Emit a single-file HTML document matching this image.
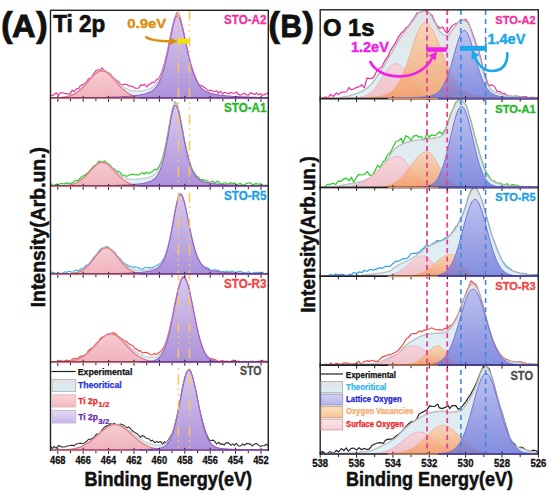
<!DOCTYPE html>
<html><head><meta charset="utf-8"><style>
html,body{margin:0;padding:0;background:#fff;}
svg{display:block;font-family:"Liberation Sans",sans-serif;font-weight:bold;}
</style></head><body>
<svg width="550" height="497" viewBox="0 0 550 497">
<defs><linearGradient id="gPur" x1="0" y1="0" x2="0" y2="1"><stop offset="0" stop-color="#d8c9ee"/><stop offset="1" stop-color="#ac92da"/></linearGradient>
<linearGradient id="gPink" x1="0" y1="0" x2="0" y2="1"><stop offset="0" stop-color="#f5cbd1"/><stop offset="1" stop-color="#f1b3bd"/></linearGradient>
<linearGradient id="gTh" x1="0" y1="0" x2="0" y2="1"><stop offset="0" stop-color="#dadcdd"/><stop offset="1" stop-color="#d4eef8"/></linearGradient>
<linearGradient id="gBlue" x1="0" y1="0" x2="0" y2="1"><stop offset="0" stop-color="#b4b8f0"/><stop offset="1" stop-color="#6e74d8"/></linearGradient>
<linearGradient id="gOr" x1="0" y1="0" x2="0" y2="1"><stop offset="0" stop-color="#fbd2ae"/><stop offset="1" stop-color="#f39c62"/></linearGradient>
<linearGradient id="gSurf" x1="0" y1="0" x2="0" y2="1"><stop offset="0" stop-color="#f6d3d8"/><stop offset="1" stop-color="#f3bcc5"/></linearGradient>
<linearGradient id="lgTh" x1="0" y1="0" x2="0" y2="1"><stop offset="0" stop-color="#e2e2e2"/><stop offset="1" stop-color="#d6f0f8"/></linearGradient>
<linearGradient id="lgBlue" x1="0" y1="0" x2="0" y2="1"><stop offset="0" stop-color="#d4d4f2"/><stop offset="1" stop-color="#b4b4ec"/></linearGradient>
<linearGradient id="lgOr" x1="0" y1="0" x2="0" y2="1"><stop offset="0" stop-color="#fde0c0"/><stop offset="1" stop-color="#f9c494"/></linearGradient>
<linearGradient id="lgSurf" x1="0" y1="0" x2="0" y2="1"><stop offset="0" stop-color="#fbe4e4"/><stop offset="1" stop-color="#f8d0d8"/></linearGradient>
<linearGradient id="lgPink" x1="0" y1="0" x2="0" y2="1"><stop offset="0" stop-color="#f9d4d8"/><stop offset="1" stop-color="#f4b8c0"/></linearGradient>
<linearGradient id="lgPur" x1="0" y1="0" x2="0" y2="1"><stop offset="0" stop-color="#e6dcf4"/><stop offset="1" stop-color="#c8b4e8"/></linearGradient>
<clipPath id="cL0"><rect x="50.5" y="10.3" width="217.8" height="88.0"/></clipPath>
<clipPath id="cL1"><rect x="50.5" y="98.3" width="217.8" height="88.0"/></clipPath>
<clipPath id="cL2"><rect x="50.5" y="186.3" width="217.8" height="88.0"/></clipPath>
<clipPath id="cL3"><rect x="50.5" y="274.3" width="217.8" height="88.0"/></clipPath>
<clipPath id="cL4"><rect x="50.5" y="362.3" width="217.8" height="88.0"/></clipPath>
<clipPath id="cR0"><rect x="320.2" y="9.8" width="218.1" height="88.8"/></clipPath>
<clipPath id="cR1"><rect x="320.2" y="98.6" width="218.1" height="88.9"/></clipPath>
<clipPath id="cR2"><rect x="320.2" y="187.5" width="218.1" height="88.8"/></clipPath>
<clipPath id="cR3"><rect x="320.2" y="276.3" width="218.1" height="88.9"/></clipPath>
<clipPath id="cR4"><rect x="320.2" y="365.2" width="218.1" height="88.9"/></clipPath></defs>
<rect width="550" height="497" fill="#fff"/>
<g clip-path="url(#cL0)">
<path d="M50.5 95.4L52.5 95.6L54.8 93.7L56.5 93.0L58.5 95.3L60.6 92.7L62.2 92.8L64.5 93.4L66.6 93.6L68.7 94.1L70.2 93.9L72.3 90.1L74.2 91.6L76.7 88.6L78.7 88.7L80.1 86.0L82.9 84.5L84.9 83.5L86.6 82.0L88.6 78.5L90.2 78.3L92.1 76.0L94.5 72.7L96.1 70.4L98.3 69.8L100.3 70.1L102.1 67.9L104.5 70.6L106.5 72.1L108.8 72.9L110.5 73.9L112.6 77.0L114.5 78.6L116.6 80.2L118.5 81.4L120.3 84.1L122.9 85.0L124.9 84.2L126.8 84.5L128.7 85.9L130.4 86.0L132.3 86.4L134.3 87.9L136.2 88.2L138.7 88.1L140.4 85.1L142.8 85.4L144.4 84.3L146.9 86.8L148.8 84.2L150.1 84.2L152.3 82.4L154.8 82.3L156.5 79.6L158.9 78.6L160.4 75.0L162.2 70.6L164.6 62.7L166.7 54.2L168.3 46.8L170.2 37.5L172.4 26.6L174.9 17.5L176.7 13.0L178.2 12.9L180.3 18.3L182.2 25.6L184.1 34.1L186.7 46.3L188.2 53.4L190.5 62.8L192.5 69.7L194.3 74.6L196.7 80.1L198.2 83.7L200.6 85.6L202.2 85.9L204.4 87.5L206.3 88.9L208.3 90.7L210.9 90.2L212.7 91.0L214.3 91.7L216.8 90.7L218.3 93.3L220.4 91.4L222.8 94.0L224.6 92.3L226.2 92.8L228.9 93.9L230.3 92.5L232.3 93.3L234.7 93.0L236.4 92.1L238.3 94.4L240.2 95.2L242.2 94.4L244.6 93.3L246.3 94.9L248.6 95.1L250.4 92.8L252.5 93.6L254.9 94.4L256.5 93.0L258.6 94.8L260.8 93.8L262.2 95.3L264.2 94.6L266.8 93.5L268.8 93.1" fill="none" stroke="#ee2fa0" stroke-width="1.15"/>
<path d="M50.5 97.7L51.5 97.7L52.5 97.7L53.5 97.6L54.5 97.6L55.5 97.6L56.5 97.5L57.5 97.5L58.5 97.4L59.5 97.3L60.5 97.3L61.5 97.2L62.5 97.1L63.5 96.9L64.5 96.8L65.5 96.6L66.5 96.4L67.5 96.2L68.5 95.9L69.5 95.6L70.5 95.3L71.5 94.9L72.5 94.5L73.5 94.0L74.5 93.5L75.5 92.9L76.5 92.3L77.5 91.6L78.5 90.8L79.5 90.0L80.5 89.2L81.5 88.2L82.5 87.2L83.5 86.2L84.5 85.1L85.5 84.0L86.5 82.9L87.5 81.7L88.5 80.5L89.5 79.3L90.5 78.2L91.5 77.0L92.5 76.0L93.5 74.9L94.5 73.9L95.5 73.0L96.5 72.2L97.5 71.5L98.5 71.0L99.5 70.5L100.5 70.2L101.5 70.0L102.5 70.0L103.5 70.1L104.5 70.4L105.5 70.7L106.5 71.3L107.5 71.9L108.5 72.6L109.5 73.4L110.5 74.3L111.5 75.3L112.5 76.3L113.5 77.4L114.5 78.4L115.5 79.5L116.5 80.6L117.5 81.6L118.5 82.6L119.5 83.6L120.5 84.5L121.5 85.4L122.5 86.2L123.5 86.9L124.5 87.6L125.5 88.2L126.5 88.7L127.5 89.2L128.5 89.6L129.5 89.9L130.5 90.2L131.5 90.5L132.5 90.7L133.5 90.8L134.5 90.9L135.5 91.0L136.5 91.0L137.5 91.0L138.5 91.0L139.5 90.9L140.5 90.9L141.5 90.8L142.5 90.6L143.5 90.5L144.5 90.3L145.5 90.1L146.5 89.8L147.5 89.5L148.5 89.2L149.5 88.8L150.5 88.4L151.5 87.8L152.5 87.2L153.5 86.5L154.5 85.6L155.5 84.6L156.5 83.4L157.5 82.0L158.5 80.3L159.5 78.4L160.5 76.2L161.5 73.7L162.5 70.8L163.5 67.6L164.5 64.0L165.5 60.1L166.5 55.8L167.5 51.2L168.5 46.4L169.5 41.4L170.5 36.3L171.5 31.3L172.5 26.5L173.5 22.3L174.5 18.7L175.5 16.0L176.5 14.5L177.5 14.2L178.5 15.0L179.5 16.8L180.5 19.6L181.5 23.0L182.5 27.1L183.5 31.5L184.5 36.2L185.5 40.9L186.5 45.7L187.5 50.3L188.5 54.8L189.5 59.0L190.5 62.9L191.5 66.6L192.5 69.9L193.5 73.0L194.5 75.7L195.5 78.1L196.5 80.3L197.5 82.3L198.5 83.9L199.5 85.4L200.5 86.7L201.5 87.8L202.5 88.8L203.5 89.6L204.5 90.3L205.5 91.0L206.5 91.5L207.5 92.0L208.5 92.4L209.5 92.8L210.5 93.1L211.5 93.4L212.5 93.7L213.5 93.9L214.5 94.2L215.5 94.4L216.5 94.6L217.5 94.7L218.5 94.9L219.5 95.0L220.5 95.2L221.5 95.3L222.5 95.4L223.5 95.6L224.5 95.7L225.5 95.8L226.5 95.9L227.5 96.0L228.5 96.0L229.5 96.1L230.5 96.2L231.5 96.3L232.5 96.3L233.5 96.4L234.5 96.5L235.5 96.5L236.5 96.6L237.5 96.6L238.5 96.7L239.5 96.7L240.5 96.8L241.5 96.8L242.5 96.9L243.5 96.9L244.5 97.0L245.5 97.0L246.5 97.0L247.5 97.1L248.5 97.1L249.5 97.1L250.5 97.2L251.5 97.2L252.5 97.2L253.5 97.2L254.5 97.3L255.5 97.3L256.5 97.3L257.5 97.3L258.5 97.4L259.5 97.4L260.5 97.4L261.5 97.4L262.5 97.5L263.5 97.5L264.5 97.5L265.5 97.5L266.5 97.5L267.5 97.5L268.5 97.6L268.5 98.3L50.5 98.3Z" fill="url(#gTh)" fill-opacity="0.8" stroke="#bcbcbc" stroke-opacity="0.85" stroke-width="1.1"/>
<path d="M50.5 98.0L51.5 98.0L52.5 98.0L53.5 98.0L54.5 97.9L55.5 97.9L56.5 97.9L57.5 97.8L58.5 97.8L59.5 97.7L60.5 97.6L61.5 97.5L62.5 97.4L63.5 97.3L64.5 97.2L65.5 97.0L66.5 96.8L67.5 96.6L68.5 96.3L69.5 96.1L70.5 95.7L71.5 95.4L72.5 95.0L73.5 94.5L74.5 94.0L75.5 93.4L76.5 92.8L77.5 92.1L78.5 91.4L79.5 90.5L80.5 89.7L81.5 88.8L82.5 87.8L83.5 86.8L84.5 85.7L85.5 84.6L86.5 83.5L87.5 82.3L88.5 81.2L89.5 80.0L90.5 78.8L91.5 77.7L92.5 76.6L93.5 75.6L94.5 74.7L95.5 73.8L96.5 73.0L97.5 72.3L98.5 71.8L99.5 71.4L100.5 71.1L101.5 70.9L102.5 70.9L103.5 71.1L104.5 71.4L105.5 71.8L106.5 72.3L107.5 73.0L108.5 73.8L109.5 74.7L110.5 75.6L111.5 76.6L112.5 77.7L113.5 78.8L114.5 80.0L115.5 81.2L116.5 82.3L117.5 83.5L118.5 84.6L119.5 85.7L120.5 86.8L121.5 87.8L122.5 88.8L123.5 89.7L124.5 90.5L125.5 91.4L126.5 92.1L127.5 92.8L128.5 93.4L129.5 94.0L130.5 94.5L131.5 95.0L132.5 95.4L133.5 95.7L134.5 96.1L135.5 96.3L136.5 96.6L137.5 96.8L138.5 97.0L139.5 97.2L140.5 97.3L141.5 97.4L142.5 97.5L143.5 97.6L144.5 97.7L145.5 97.8L146.5 97.8L147.5 97.9L148.5 97.9L149.5 97.9L150.5 98.0L151.5 98.0L152.5 98.0L153.5 98.0L154.5 98.0L155.5 98.0L156.5 98.1L157.5 98.1L158.5 98.1L159.5 98.1L160.5 98.1L161.5 98.1L162.5 98.1L163.5 98.1L164.5 98.1L165.5 98.1L166.5 98.1L167.5 98.1L168.5 98.1L169.5 98.1L170.5 98.1L171.5 98.2L172.5 98.2L173.5 98.2L174.5 98.2L175.5 98.2L176.5 98.2L177.5 98.2L178.5 98.2L179.5 98.2L180.5 98.2L181.5 98.2L182.5 98.2L183.5 98.2L184.5 98.2L185.5 98.2L186.5 98.2L187.5 98.2L188.5 98.2L189.5 98.2L190.5 98.2L191.5 98.2L192.5 98.2L193.5 98.2L194.5 98.2L195.5 98.2L196.5 98.2L197.5 98.2L198.5 98.2L199.5 98.2L200.5 98.2L201.5 98.2L202.5 98.2L203.5 98.2L204.5 98.2L205.5 98.2L206.5 98.2L207.5 98.2L208.5 98.2L209.5 98.2L210.5 98.2L211.5 98.2L212.5 98.2L213.5 98.2L214.5 98.2L215.5 98.2L216.5 98.2L217.5 98.2L218.5 98.2L219.5 98.2L220.5 98.2L221.5 98.2L222.5 98.2L223.5 98.3L224.5 98.3L225.5 98.3L226.5 98.3L227.5 98.3L228.5 98.3L229.5 98.3L230.5 98.3L231.5 98.3L232.5 98.3L233.5 98.3L234.5 98.3L235.5 98.3L236.5 98.3L237.5 98.3L238.5 98.3L239.5 98.3L240.5 98.3L241.5 98.3L242.5 98.3L243.5 98.3L244.5 98.3L245.5 98.3L246.5 98.3L247.5 98.3L248.5 98.3L249.5 98.3L250.5 98.3L251.5 98.3L252.5 98.3L253.5 98.3L254.5 98.3L255.5 98.3L256.5 98.3L257.5 98.3L258.5 98.3L259.5 98.3L260.5 98.3L261.5 98.3L262.5 98.3L263.5 98.3L264.5 98.3L265.5 98.3L266.5 98.3L267.5 98.3L268.5 98.3L268.5 98.3L50.5 98.3Z" fill="url(#gPink)" stroke="#e8707e" stroke-width="1.1"/>
<path d="M50.5 98.0L51.5 98.0L52.5 98.0L53.5 98.0L54.5 98.0L55.5 98.0L56.5 98.0L57.5 98.0L58.5 97.9L59.5 97.9L60.5 97.9L61.5 97.9L62.5 97.9L63.5 97.9L64.5 97.9L65.5 97.9L66.5 97.9L67.5 97.9L68.5 97.9L69.5 97.9L70.5 97.9L71.5 97.9L72.5 97.8L73.5 97.8L74.5 97.8L75.5 97.8L76.5 97.8L77.5 97.8L78.5 97.8L79.5 97.8L80.5 97.8L81.5 97.8L82.5 97.8L83.5 97.7L84.5 97.7L85.5 97.7L86.5 97.7L87.5 97.7L88.5 97.7L89.5 97.7L90.5 97.6L91.5 97.6L92.5 97.6L93.5 97.6L94.5 97.6L95.5 97.6L96.5 97.5L97.5 97.5L98.5 97.5L99.5 97.5L100.5 97.5L101.5 97.4L102.5 97.4L103.5 97.4L104.5 97.4L105.5 97.3L106.5 97.3L107.5 97.3L108.5 97.3L109.5 97.2L110.5 97.2L111.5 97.2L112.5 97.1L113.5 97.1L114.5 97.1L115.5 97.0L116.5 97.0L117.5 96.9L118.5 96.9L119.5 96.9L120.5 96.8L121.5 96.7L122.5 96.7L123.5 96.6L124.5 96.6L125.5 96.5L126.5 96.4L127.5 96.4L128.5 96.3L129.5 96.2L130.5 96.1L131.5 96.0L132.5 95.9L133.5 95.8L134.5 95.7L135.5 95.6L136.5 95.5L137.5 95.3L138.5 95.2L139.5 95.0L140.5 94.9L141.5 94.7L142.5 94.5L143.5 94.3L144.5 94.0L145.5 93.8L146.5 93.5L147.5 93.1L148.5 92.8L149.5 92.3L150.5 91.9L151.5 91.3L152.5 90.6L153.5 89.9L154.5 88.9L155.5 87.9L156.5 86.6L157.5 85.2L158.5 83.5L159.5 81.5L160.5 79.3L161.5 76.7L162.5 73.7L163.5 70.5L164.5 66.8L165.5 62.8L166.5 58.4L167.5 53.8L168.5 48.8L169.5 43.7L170.5 38.6L171.5 33.5L172.5 28.6L173.5 24.3L174.5 20.6L175.5 17.8L176.5 16.2L177.5 15.8L178.5 16.6L179.5 18.3L180.5 21.0L181.5 24.4L182.5 28.3L183.5 32.7L184.5 37.3L185.5 42.0L186.5 46.6L187.5 51.2L188.5 55.6L189.5 59.7L190.5 63.6L191.5 67.2L192.5 70.5L193.5 73.5L194.5 76.2L195.5 78.6L196.5 80.8L197.5 82.7L198.5 84.3L199.5 85.8L200.5 87.0L201.5 88.1L202.5 89.1L203.5 89.9L204.5 90.6L205.5 91.2L206.5 91.7L207.5 92.2L208.5 92.6L209.5 93.0L210.5 93.3L211.5 93.6L212.5 93.8L213.5 94.1L214.5 94.3L215.5 94.5L216.5 94.7L217.5 94.8L218.5 95.0L219.5 95.1L220.5 95.3L221.5 95.4L222.5 95.5L223.5 95.6L224.5 95.7L225.5 95.8L226.5 95.9L227.5 96.0L228.5 96.1L229.5 96.2L230.5 96.3L231.5 96.3L232.5 96.4L233.5 96.5L234.5 96.5L235.5 96.6L236.5 96.6L237.5 96.7L238.5 96.7L239.5 96.8L240.5 96.8L241.5 96.9L242.5 96.9L243.5 97.0L244.5 97.0L245.5 97.0L246.5 97.1L247.5 97.1L248.5 97.1L249.5 97.2L250.5 97.2L251.5 97.2L252.5 97.3L253.5 97.3L254.5 97.3L255.5 97.3L256.5 97.4L257.5 97.4L258.5 97.4L259.5 97.4L260.5 97.4L261.5 97.5L262.5 97.5L263.5 97.5L264.5 97.5L265.5 97.5L266.5 97.6L267.5 97.6L268.5 97.6L268.5 98.3L50.5 98.3Z" fill="url(#gPur)" stroke="#a058c8" stroke-width="1.05"/>
</g>
<g clip-path="url(#cL1)">
<path d="M50.8 183.3L52.4 185.4L54.6 185.0L56.4 184.2L58.2 184.7L60.5 183.6L62.8 183.7L64.8 183.8L66.7 182.9L68.9 183.2L70.3 183.5L72.2 182.9L74.5 181.0L76.3 180.1L78.3 180.8L80.4 177.8L82.6 176.0L84.5 175.5L86.4 173.6L88.8 171.9L90.9 169.0L92.5 167.4L94.2 165.5L96.1 165.1L98.8 161.1L100.1 161.6L102.7 161.5L104.6 160.8L106.3 162.2L108.7 163.9L110.1 164.6L112.2 167.8L114.5 169.0L116.1 170.8L118.8 171.6L120.3 172.6L122.2 175.1L124.1 175.2L126.6 176.4L128.5 175.6L130.6 174.5L132.6 174.1L134.7 174.8L136.9 174.9L138.6 175.0L140.3 173.7L142.5 172.6L144.2 174.2L146.1 172.3L148.5 173.6L150.7 172.5L152.2 171.8L154.3 169.6L156.4 169.6L158.7 167.2L160.5 163.4L162.6 158.0L164.7 149.3L166.4 141.4L168.7 128.3L170.8 116.6L172.2 110.1L174.8 102.1L176.7 103.9L178.2 108.3L180.5 118.5L182.6 130.0L184.8 142.1L186.4 149.7L188.6 158.3L190.8 165.5L192.7 170.3L194.9 173.5L196.5 175.9L198.6 177.1L200.3 179.7L202.7 179.6L204.8 180.1L206.6 180.3L208.7 182.1L210.3 182.3L212.8 181.2L214.9 183.1L216.9 181.4L218.5 181.8L220.7 183.8L222.4 183.7L224.8 182.6L226.8 183.9L228.4 184.3L230.2 182.7L232.5 183.8L234.5 182.9L236.7 184.6L238.5 184.0L240.1 183.4L242.7 185.1L244.2 184.7L246.7 183.6L248.2 183.0L250.4 182.9L252.7 185.0L254.2 184.1L256.2 183.6L258.5 184.2L260.7 183.8L262.8 185.0L264.7 185.3L266.9 185.3L268.5 185.4" fill="none" stroke="#22cc22" stroke-width="1.15"/>
<path d="M50.5 185.9L51.5 185.9L52.5 185.9L53.5 185.8L54.5 185.8L55.5 185.8L56.5 185.8L57.5 185.8L58.5 185.7L59.5 185.7L60.5 185.7L61.5 185.6L62.5 185.5L63.5 185.5L64.5 185.4L65.5 185.3L66.5 185.2L67.5 185.1L68.5 184.9L69.5 184.7L70.5 184.5L71.5 184.3L72.5 184.0L73.5 183.7L74.5 183.3L75.5 182.9L76.5 182.4L77.5 181.9L78.5 181.3L79.5 180.7L80.5 180.0L81.5 179.2L82.5 178.4L83.5 177.5L84.5 176.6L85.5 175.6L86.5 174.6L87.5 173.5L88.5 172.4L89.5 171.3L90.5 170.2L91.5 169.1L92.5 168.0L93.5 167.0L94.5 166.0L95.5 165.1L96.5 164.3L97.5 163.6L98.5 163.0L99.5 162.5L100.5 162.1L101.5 161.9L102.5 161.8L103.5 161.9L104.5 162.1L105.5 162.5L106.5 162.9L107.5 163.5L108.5 164.2L109.5 165.0L110.5 165.9L111.5 166.8L112.5 167.8L113.5 168.8L114.5 169.8L115.5 170.7L116.5 171.7L117.5 172.6L118.5 173.5L119.5 174.4L120.5 175.2L121.5 175.9L122.5 176.5L123.5 177.1L124.5 177.6L125.5 178.0L126.5 178.4L127.5 178.7L128.5 178.9L129.5 179.1L130.5 179.2L131.5 179.3L132.5 179.3L133.5 179.3L134.5 179.3L135.5 179.3L136.5 179.2L137.5 179.1L138.5 179.1L139.5 178.9L140.5 178.8L141.5 178.7L142.5 178.5L143.5 178.4L144.5 178.2L145.5 178.0L146.5 177.8L147.5 177.6L148.5 177.3L149.5 177.0L150.5 176.6L151.5 176.2L152.5 175.7L153.5 175.0L154.5 174.3L155.5 173.4L156.5 172.2L157.5 170.9L158.5 169.2L159.5 167.2L160.5 164.9L161.5 162.1L162.5 158.8L163.5 155.1L164.5 150.9L165.5 146.2L166.5 141.1L167.5 135.6L168.5 129.9L169.5 124.1L170.5 118.5L171.5 113.2L172.5 108.7L173.5 105.3L174.5 103.2L175.5 102.8L176.5 103.8L177.5 106.1L178.5 109.5L179.5 113.9L180.5 118.8L181.5 124.1L182.5 129.6L183.5 135.0L184.5 140.3L185.5 145.4L186.5 150.1L187.5 154.4L188.5 158.4L189.5 161.9L190.5 165.0L191.5 167.7L192.5 170.1L193.5 172.1L194.5 173.9L195.5 175.4L196.5 176.6L197.5 177.6L198.5 178.5L199.5 179.3L200.5 179.9L201.5 180.4L202.5 180.9L203.5 181.3L204.5 181.7L205.5 182.0L206.5 182.2L207.5 182.5L208.5 182.7L209.5 182.9L210.5 183.1L211.5 183.3L212.5 183.4L213.5 183.6L214.5 183.7L215.5 183.8L216.5 183.9L217.5 184.0L218.5 184.1L219.5 184.2L220.5 184.3L221.5 184.4L222.5 184.5L223.5 184.6L224.5 184.6L225.5 184.7L226.5 184.8L227.5 184.8L228.5 184.9L229.5 184.9L230.5 185.0L231.5 185.0L232.5 185.1L233.5 185.1L234.5 185.1L235.5 185.2L236.5 185.2L237.5 185.2L238.5 185.3L239.5 185.3L240.5 185.3L241.5 185.4L242.5 185.4L243.5 185.4L244.5 185.4L245.5 185.5L246.5 185.5L247.5 185.5L248.5 185.5L249.5 185.6L250.5 185.6L251.5 185.6L252.5 185.6L253.5 185.6L254.5 185.6L255.5 185.7L256.5 185.7L257.5 185.7L258.5 185.7L259.5 185.7L260.5 185.7L261.5 185.7L262.5 185.8L263.5 185.8L264.5 185.8L265.5 185.8L266.5 185.8L267.5 185.8L268.5 185.8L268.5 186.3L50.5 186.3Z" fill="url(#gTh)" fill-opacity="0.8" stroke="#bcbcbc" stroke-opacity="0.85" stroke-width="1.1"/>
<path d="M50.5 186.1L51.5 186.1L52.5 186.1L53.5 186.1L54.5 186.1L55.5 186.0L56.5 186.0L57.5 186.0L58.5 186.0L59.5 185.9L60.5 185.9L61.5 185.9L62.5 185.8L63.5 185.7L64.5 185.7L65.5 185.6L66.5 185.5L67.5 185.3L68.5 185.2L69.5 185.0L70.5 184.8L71.5 184.6L72.5 184.3L73.5 184.0L74.5 183.6L75.5 183.2L76.5 182.7L77.5 182.2L78.5 181.6L79.5 181.0L80.5 180.3L81.5 179.6L82.5 178.8L83.5 177.9L84.5 177.0L85.5 176.0L86.5 175.0L87.5 173.9L88.5 172.8L89.5 171.8L90.5 170.7L91.5 169.6L92.5 168.5L93.5 167.5L94.5 166.5L95.5 165.7L96.5 164.8L97.5 164.1L98.5 163.5L99.5 163.1L100.5 162.7L101.5 162.5L102.5 162.5L103.5 162.6L104.5 162.9L105.5 163.2L106.5 163.8L107.5 164.4L108.5 165.2L109.5 166.0L110.5 166.9L111.5 167.9L112.5 168.9L113.5 170.0L114.5 171.1L115.5 172.2L116.5 173.3L117.5 174.3L118.5 175.4L119.5 176.4L120.5 177.3L121.5 178.2L122.5 179.1L123.5 179.9L124.5 180.6L125.5 181.3L126.5 181.9L127.5 182.4L128.5 182.9L129.5 183.4L130.5 183.8L131.5 184.1L132.5 184.4L133.5 184.7L134.5 184.9L135.5 185.1L136.5 185.2L137.5 185.4L138.5 185.5L139.5 185.6L140.5 185.7L141.5 185.8L142.5 185.8L143.5 185.9L144.5 185.9L145.5 186.0L146.5 186.0L147.5 186.0L148.5 186.0L149.5 186.0L150.5 186.1L151.5 186.1L152.5 186.1L153.5 186.1L154.5 186.1L155.5 186.1L156.5 186.1L157.5 186.1L158.5 186.1L159.5 186.1L160.5 186.1L161.5 186.2L162.5 186.2L163.5 186.2L164.5 186.2L165.5 186.2L166.5 186.2L167.5 186.2L168.5 186.2L169.5 186.2L170.5 186.2L171.5 186.2L172.5 186.2L173.5 186.2L174.5 186.2L175.5 186.2L176.5 186.2L177.5 186.2L178.5 186.2L179.5 186.2L180.5 186.2L181.5 186.2L182.5 186.2L183.5 186.2L184.5 186.2L185.5 186.2L186.5 186.2L187.5 186.2L188.5 186.2L189.5 186.2L190.5 186.2L191.5 186.2L192.5 186.2L193.5 186.2L194.5 186.2L195.5 186.2L196.5 186.2L197.5 186.2L198.5 186.2L199.5 186.2L200.5 186.2L201.5 186.2L202.5 186.2L203.5 186.2L204.5 186.2L205.5 186.2L206.5 186.3L207.5 186.3L208.5 186.3L209.5 186.3L210.5 186.3L211.5 186.3L212.5 186.3L213.5 186.3L214.5 186.3L215.5 186.3L216.5 186.3L217.5 186.3L218.5 186.3L219.5 186.3L220.5 186.3L221.5 186.3L222.5 186.3L223.5 186.3L224.5 186.3L225.5 186.3L226.5 186.3L227.5 186.3L228.5 186.3L229.5 186.3L230.5 186.3L231.5 186.3L232.5 186.3L233.5 186.3L234.5 186.3L235.5 186.3L236.5 186.3L237.5 186.3L238.5 186.3L239.5 186.3L240.5 186.3L241.5 186.3L242.5 186.3L243.5 186.3L244.5 186.3L245.5 186.3L246.5 186.3L247.5 186.3L248.5 186.3L249.5 186.3L250.5 186.3L251.5 186.3L252.5 186.3L253.5 186.3L254.5 186.3L255.5 186.3L256.5 186.3L257.5 186.3L258.5 186.3L259.5 186.3L260.5 186.3L261.5 186.3L262.5 186.3L263.5 186.3L264.5 186.3L265.5 186.3L266.5 186.3L267.5 186.3L268.5 186.3L268.5 186.3L50.5 186.3Z" fill="url(#gPink)" stroke="#e8707e" stroke-width="1.1"/>
<path d="M50.5 186.1L51.5 186.1L52.5 186.1L53.5 186.1L54.5 186.1L55.5 186.1L56.5 186.1L57.5 186.1L58.5 186.1L59.5 186.1L60.5 186.1L61.5 186.0L62.5 186.0L63.5 186.0L64.5 186.0L65.5 186.0L66.5 186.0L67.5 186.0L68.5 186.0L69.5 186.0L70.5 186.0L71.5 186.0L72.5 186.0L73.5 186.0L74.5 186.0L75.5 186.0L76.5 186.0L77.5 186.0L78.5 185.9L79.5 185.9L80.5 185.9L81.5 185.9L82.5 185.9L83.5 185.9L84.5 185.9L85.5 185.9L86.5 185.9L87.5 185.9L88.5 185.9L89.5 185.9L90.5 185.8L91.5 185.8L92.5 185.8L93.5 185.8L94.5 185.8L95.5 185.8L96.5 185.8L97.5 185.8L98.5 185.7L99.5 185.7L100.5 185.7L101.5 185.7L102.5 185.7L103.5 185.7L104.5 185.6L105.5 185.6L106.5 185.6L107.5 185.6L108.5 185.6L109.5 185.5L110.5 185.5L111.5 185.5L112.5 185.5L113.5 185.5L114.5 185.4L115.5 185.4L116.5 185.4L117.5 185.3L118.5 185.3L119.5 185.3L120.5 185.2L121.5 185.2L122.5 185.1L123.5 185.1L124.5 185.1L125.5 185.0L126.5 185.0L127.5 184.9L128.5 184.8L129.5 184.8L130.5 184.7L131.5 184.6L132.5 184.6L133.5 184.5L134.5 184.4L135.5 184.3L136.5 184.2L137.5 184.1L138.5 184.0L139.5 183.9L140.5 183.7L141.5 183.6L142.5 183.4L143.5 183.3L144.5 183.1L145.5 182.9L146.5 182.6L147.5 182.4L148.5 182.1L149.5 181.7L150.5 181.3L151.5 180.9L152.5 180.3L153.5 179.7L154.5 178.9L155.5 177.9L156.5 176.7L157.5 175.3L158.5 173.6L159.5 171.5L160.5 169.1L161.5 166.2L162.5 162.9L163.5 159.0L164.5 154.7L165.5 149.9L166.5 144.7L167.5 139.1L168.5 133.3L169.5 127.4L170.5 121.6L171.5 116.3L172.5 111.6L173.5 108.1L174.5 105.9L175.5 105.3L176.5 106.2L177.5 108.4L178.5 111.7L179.5 115.9L180.5 120.7L181.5 125.9L182.5 131.3L183.5 136.6L184.5 141.8L185.5 146.7L186.5 151.4L187.5 155.6L188.5 159.5L189.5 162.9L190.5 166.0L191.5 168.6L192.5 170.9L193.5 172.9L194.5 174.6L195.5 176.0L196.5 177.2L197.5 178.2L198.5 179.0L199.5 179.7L200.5 180.3L201.5 180.8L202.5 181.3L203.5 181.6L204.5 182.0L205.5 182.2L206.5 182.5L207.5 182.7L208.5 182.9L209.5 183.1L210.5 183.3L211.5 183.4L212.5 183.6L213.5 183.7L214.5 183.8L215.5 184.0L216.5 184.1L217.5 184.2L218.5 184.3L219.5 184.3L220.5 184.4L221.5 184.5L222.5 184.6L223.5 184.6L224.5 184.7L225.5 184.8L226.5 184.8L227.5 184.9L228.5 184.9L229.5 185.0L230.5 185.0L231.5 185.1L232.5 185.1L233.5 185.1L234.5 185.2L235.5 185.2L236.5 185.3L237.5 185.3L238.5 185.3L239.5 185.3L240.5 185.4L241.5 185.4L242.5 185.4L243.5 185.5L244.5 185.5L245.5 185.5L246.5 185.5L247.5 185.5L248.5 185.6L249.5 185.6L250.5 185.6L251.5 185.6L252.5 185.6L253.5 185.7L254.5 185.7L255.5 185.7L256.5 185.7L257.5 185.7L258.5 185.7L259.5 185.7L260.5 185.8L261.5 185.8L262.5 185.8L263.5 185.8L264.5 185.8L265.5 185.8L266.5 185.8L267.5 185.8L268.5 185.8L268.5 186.3L50.5 186.3Z" fill="url(#gPur)" stroke="#a058c8" stroke-width="1.05"/>
</g>
<g clip-path="url(#cL2)">
<path d="M50.5 273.0L52.5 272.1L54.6 272.9L56.2 273.5L58.2 273.0L60.3 273.3L62.8 273.1L64.9 271.8L66.8 272.5L68.2 271.4L70.1 271.5L72.9 272.6L74.5 270.5L76.7 270.1L78.4 271.4L80.5 268.9L82.5 268.8L84.4 267.5L86.6 265.0L88.1 264.9L90.7 261.7L92.8 258.6L94.2 257.0L96.5 254.5L98.7 251.0L100.4 249.3L102.3 248.1L104.2 247.9L106.5 246.5L108.1 247.1L110.8 249.1L112.7 251.0L114.7 252.2L116.8 255.4L118.6 257.1L120.4 258.9L122.6 261.5L124.5 263.6L126.9 264.7L128.7 266.1L130.3 266.1L132.8 267.4L134.7 266.9L136.7 267.3L138.8 267.9L140.4 268.9L142.8 269.1L144.8 267.4L146.7 267.5L148.7 267.6L150.7 267.8L152.4 267.6L154.7 266.2L156.2 265.8L158.4 264.6L160.5 263.1L162.1 261.1L164.4 257.6L166.6 251.6L168.6 243.9L170.3 236.5L172.9 223.1L174.6 213.7L176.4 204.7L178.6 196.1L180.6 193.4L182.5 195.9L184.4 202.4L186.9 213.6L188.6 222.6L190.7 232.7L192.7 241.5L194.9 249.6L196.1 253.3L198.6 259.5L200.7 262.9L202.3 265.3L204.4 266.9L206.1 267.2L208.3 268.0L210.4 270.2L212.2 270.5L214.3 269.5L216.8 270.3L218.5 270.2L220.5 271.6L222.9 271.4L224.6 271.8L226.9 270.9L228.6 271.9L230.7 271.5L232.2 270.9L234.6 272.3L236.7 272.0L238.1 271.6L240.8 271.4L242.2 272.4L244.5 272.6L246.2 273.2L248.5 271.7L250.6 273.3L252.1 273.4L254.9 272.4L256.4 272.6L258.5 272.3L260.6 273.1L262.4 272.2L264.3 273.6L266.6 273.3L268.5 272.5" fill="none" stroke="#48b0ee" stroke-width="1.15"/>
<path d="M50.5 273.9L51.5 273.9L52.5 273.9L53.5 273.9L54.5 273.9L55.5 273.9L56.5 273.9L57.5 273.9L58.5 273.9L59.5 273.8L60.5 273.8L61.5 273.8L62.5 273.8L63.5 273.8L64.5 273.7L65.5 273.7L66.5 273.6L67.5 273.6L68.5 273.5L69.5 273.5L70.5 273.4L71.5 273.3L72.5 273.1L73.5 273.0L74.5 272.8L75.5 272.6L76.5 272.4L77.5 272.1L78.5 271.7L79.5 271.3L80.5 270.9L81.5 270.4L82.5 269.8L83.5 269.2L84.5 268.4L85.5 267.6L86.5 266.8L87.5 265.8L88.5 264.8L89.5 263.7L90.5 262.5L91.5 261.3L92.5 260.1L93.5 258.8L94.5 257.5L95.5 256.1L96.5 254.9L97.5 253.6L98.5 252.4L99.5 251.3L100.5 250.2L101.5 249.3L102.5 248.6L103.5 248.0L104.5 247.5L105.5 247.3L106.5 247.2L107.5 247.3L108.5 247.6L109.5 248.0L110.5 248.7L111.5 249.5L112.5 250.4L113.5 251.4L114.5 252.5L115.5 253.6L116.5 254.9L117.5 256.1L118.5 257.3L119.5 258.6L120.5 259.8L121.5 260.9L122.5 262.0L123.5 263.1L124.5 264.1L125.5 264.9L126.5 265.8L127.5 266.5L128.5 267.2L129.5 267.7L130.5 268.2L131.5 268.7L132.5 269.0L133.5 269.4L134.5 269.6L135.5 269.8L136.5 270.0L137.5 270.1L138.5 270.2L139.5 270.2L140.5 270.3L141.5 270.3L142.5 270.2L143.5 270.2L144.5 270.1L145.5 270.0L146.5 269.9L147.5 269.8L148.5 269.7L149.5 269.5L150.5 269.3L151.5 269.1L152.5 268.9L153.5 268.6L154.5 268.3L155.5 267.9L156.5 267.4L157.5 266.8L158.5 266.1L159.5 265.3L160.5 264.3L161.5 263.0L162.5 261.5L163.5 259.7L164.5 257.5L165.5 255.0L166.5 252.0L167.5 248.6L168.5 244.8L169.5 240.5L170.5 235.8L171.5 230.7L172.5 225.4L173.5 219.8L174.5 214.3L175.5 209.0L176.5 204.0L177.5 199.7L178.5 196.4L179.5 194.4L180.5 193.7L181.5 194.3L182.5 196.1L183.5 198.9L184.5 202.6L185.5 207.0L186.5 211.8L187.5 216.8L188.5 221.9L189.5 227.0L190.5 231.8L191.5 236.5L192.5 240.8L193.5 244.8L194.5 248.5L195.5 251.8L196.5 254.6L197.5 257.2L198.5 259.4L199.5 261.3L200.5 262.9L201.5 264.3L202.5 265.5L203.5 266.5L204.5 267.3L205.5 268.0L206.5 268.6L207.5 269.1L208.5 269.5L209.5 269.9L210.5 270.2L211.5 270.4L212.5 270.7L213.5 270.9L214.5 271.1L215.5 271.3L216.5 271.4L217.5 271.6L218.5 271.7L219.5 271.8L220.5 271.9L221.5 272.0L222.5 272.1L223.5 272.2L224.5 272.3L225.5 272.4L226.5 272.5L227.5 272.6L228.5 272.6L229.5 272.7L230.5 272.8L231.5 272.8L232.5 272.9L233.5 272.9L234.5 273.0L235.5 273.0L236.5 273.1L237.5 273.1L238.5 273.1L239.5 273.2L240.5 273.2L241.5 273.2L242.5 273.3L243.5 273.3L244.5 273.3L245.5 273.4L246.5 273.4L247.5 273.4L248.5 273.4L249.5 273.5L250.5 273.5L251.5 273.5L252.5 273.5L253.5 273.6L254.5 273.6L255.5 273.6L256.5 273.6L257.5 273.6L258.5 273.6L259.5 273.7L260.5 273.7L261.5 273.7L262.5 273.7L263.5 273.7L264.5 273.7L265.5 273.7L266.5 273.8L267.5 273.8L268.5 273.8L268.5 274.3L50.5 274.3Z" fill="url(#gTh)" fill-opacity="0.8" stroke="#bcbcbc" stroke-opacity="0.85" stroke-width="1.1"/>
<path d="M50.5 274.1L51.5 274.1L52.5 274.1L53.5 274.1L54.5 274.1L55.5 274.1L56.5 274.1L57.5 274.1L58.5 274.1L59.5 274.1L60.5 274.0L61.5 274.0L62.5 274.0L63.5 274.0L64.5 274.0L65.5 273.9L66.5 273.9L67.5 273.8L68.5 273.8L69.5 273.7L70.5 273.6L71.5 273.5L72.5 273.4L73.5 273.3L74.5 273.1L75.5 272.9L76.5 272.7L77.5 272.4L78.5 272.0L79.5 271.7L80.5 271.2L81.5 270.7L82.5 270.2L83.5 269.5L84.5 268.8L85.5 268.0L86.5 267.1L87.5 266.2L88.5 265.2L89.5 264.1L90.5 262.9L91.5 261.7L92.5 260.5L93.5 259.2L94.5 257.9L95.5 256.6L96.5 255.3L97.5 254.1L98.5 252.9L99.5 251.8L100.5 250.8L101.5 249.9L102.5 249.1L103.5 248.5L104.5 248.1L105.5 247.9L106.5 247.8L107.5 247.9L108.5 248.3L109.5 248.7L110.5 249.4L111.5 250.2L112.5 251.2L113.5 252.2L114.5 253.4L115.5 254.6L116.5 255.8L117.5 257.1L118.5 258.4L119.5 259.7L120.5 261.0L121.5 262.2L122.5 263.4L123.5 264.5L124.5 265.6L125.5 266.6L126.5 267.5L127.5 268.3L128.5 269.1L129.5 269.8L130.5 270.4L131.5 270.9L132.5 271.4L133.5 271.8L134.5 272.2L135.5 272.5L136.5 272.8L137.5 273.0L138.5 273.2L139.5 273.3L140.5 273.5L141.5 273.6L142.5 273.7L143.5 273.7L144.5 273.8L145.5 273.9L146.5 273.9L147.5 273.9L148.5 274.0L149.5 274.0L150.5 274.0L151.5 274.0L152.5 274.1L153.5 274.1L154.5 274.1L155.5 274.1L156.5 274.1L157.5 274.1L158.5 274.1L159.5 274.1L160.5 274.1L161.5 274.1L162.5 274.1L163.5 274.1L164.5 274.1L165.5 274.2L166.5 274.2L167.5 274.2L168.5 274.2L169.5 274.2L170.5 274.2L171.5 274.2L172.5 274.2L173.5 274.2L174.5 274.2L175.5 274.2L176.5 274.2L177.5 274.2L178.5 274.2L179.5 274.2L180.5 274.2L181.5 274.2L182.5 274.2L183.5 274.2L184.5 274.2L185.5 274.2L186.5 274.2L187.5 274.2L188.5 274.2L189.5 274.2L190.5 274.2L191.5 274.2L192.5 274.2L193.5 274.2L194.5 274.2L195.5 274.2L196.5 274.2L197.5 274.2L198.5 274.2L199.5 274.2L200.5 274.2L201.5 274.2L202.5 274.2L203.5 274.2L204.5 274.2L205.5 274.2L206.5 274.2L207.5 274.2L208.5 274.2L209.5 274.3L210.5 274.3L211.5 274.3L212.5 274.3L213.5 274.3L214.5 274.3L215.5 274.3L216.5 274.3L217.5 274.3L218.5 274.3L219.5 274.3L220.5 274.3L221.5 274.3L222.5 274.3L223.5 274.3L224.5 274.3L225.5 274.3L226.5 274.3L227.5 274.3L228.5 274.3L229.5 274.3L230.5 274.3L231.5 274.3L232.5 274.3L233.5 274.3L234.5 274.3L235.5 274.3L236.5 274.3L237.5 274.3L238.5 274.3L239.5 274.3L240.5 274.3L241.5 274.3L242.5 274.3L243.5 274.3L244.5 274.3L245.5 274.3L246.5 274.3L247.5 274.3L248.5 274.3L249.5 274.3L250.5 274.3L251.5 274.3L252.5 274.3L253.5 274.3L254.5 274.3L255.5 274.3L256.5 274.3L257.5 274.3L258.5 274.3L259.5 274.3L260.5 274.3L261.5 274.3L262.5 274.3L263.5 274.3L264.5 274.3L265.5 274.3L266.5 274.3L267.5 274.3L268.5 274.3L268.5 274.3L50.5 274.3Z" fill="url(#gPink)" stroke="#e8707e" stroke-width="1.1"/>
<path d="M50.5 274.1L51.5 274.1L52.5 274.1L53.5 274.1L54.5 274.1L55.5 274.1L56.5 274.1L57.5 274.1L58.5 274.1L59.5 274.1L60.5 274.1L61.5 274.1L62.5 274.1L63.5 274.1L64.5 274.1L65.5 274.1L66.5 274.1L67.5 274.0L68.5 274.0L69.5 274.0L70.5 274.0L71.5 274.0L72.5 274.0L73.5 274.0L74.5 274.0L75.5 274.0L76.5 274.0L77.5 274.0L78.5 274.0L79.5 274.0L80.5 274.0L81.5 274.0L82.5 274.0L83.5 274.0L84.5 274.0L85.5 273.9L86.5 273.9L87.5 273.9L88.5 273.9L89.5 273.9L90.5 273.9L91.5 273.9L92.5 273.9L93.5 273.9L94.5 273.9L95.5 273.9L96.5 273.8L97.5 273.8L98.5 273.8L99.5 273.8L100.5 273.8L101.5 273.8L102.5 273.8L103.5 273.8L104.5 273.7L105.5 273.7L106.5 273.7L107.5 273.7L108.5 273.7L109.5 273.7L110.5 273.6L111.5 273.6L112.5 273.6L113.5 273.6L114.5 273.6L115.5 273.5L116.5 273.5L117.5 273.5L118.5 273.5L119.5 273.4L120.5 273.4L121.5 273.4L122.5 273.4L123.5 273.3L124.5 273.3L125.5 273.3L126.5 273.2L127.5 273.2L128.5 273.1L129.5 273.1L130.5 273.0L131.5 273.0L132.5 272.9L133.5 272.9L134.5 272.8L135.5 272.8L136.5 272.7L137.5 272.6L138.5 272.5L139.5 272.5L140.5 272.4L141.5 272.3L142.5 272.2L143.5 272.1L144.5 272.0L145.5 271.8L146.5 271.7L147.5 271.5L148.5 271.4L149.5 271.2L150.5 271.0L151.5 270.7L152.5 270.5L153.5 270.2L154.5 269.8L155.5 269.4L156.5 268.9L157.5 268.3L158.5 267.6L159.5 266.7L160.5 265.6L161.5 264.4L162.5 262.8L163.5 261.0L164.5 258.8L165.5 256.2L166.5 253.2L167.5 249.8L168.5 245.9L169.5 241.5L170.5 236.8L171.5 231.7L172.5 226.3L173.5 220.8L174.5 215.2L175.5 209.8L176.5 204.8L177.5 200.5L178.5 197.2L179.5 195.0L180.5 194.3L181.5 194.9L182.5 196.7L183.5 199.5L184.5 203.1L185.5 207.5L186.5 212.2L187.5 217.2L188.5 222.3L189.5 227.3L190.5 232.2L191.5 236.8L192.5 241.1L193.5 245.1L194.5 248.7L195.5 252.0L196.5 254.9L197.5 257.4L198.5 259.6L199.5 261.5L200.5 263.1L201.5 264.5L202.5 265.6L203.5 266.6L204.5 267.4L205.5 268.1L206.5 268.7L207.5 269.2L208.5 269.6L209.5 270.0L210.5 270.3L211.5 270.5L212.5 270.8L213.5 271.0L214.5 271.2L215.5 271.3L216.5 271.5L217.5 271.6L218.5 271.8L219.5 271.9L220.5 272.0L221.5 272.1L222.5 272.2L223.5 272.3L224.5 272.4L225.5 272.5L226.5 272.5L227.5 272.6L228.5 272.7L229.5 272.7L230.5 272.8L231.5 272.8L232.5 272.9L233.5 273.0L234.5 273.0L235.5 273.0L236.5 273.1L237.5 273.1L238.5 273.2L239.5 273.2L240.5 273.2L241.5 273.3L242.5 273.3L243.5 273.3L244.5 273.4L245.5 273.4L246.5 273.4L247.5 273.4L248.5 273.5L249.5 273.5L250.5 273.5L251.5 273.5L252.5 273.6L253.5 273.6L254.5 273.6L255.5 273.6L256.5 273.6L257.5 273.6L258.5 273.7L259.5 273.7L260.5 273.7L261.5 273.7L262.5 273.7L263.5 273.7L264.5 273.8L265.5 273.8L266.5 273.8L267.5 273.8L268.5 273.8L268.5 274.3L50.5 274.3Z" fill="url(#gPur)" stroke="#a058c8" stroke-width="1.05"/>
</g>
<g clip-path="url(#cL3)">
<path d="M50.2 361.0L52.3 361.8L54.7 361.8L56.7 361.6L58.3 361.8L60.2 360.5L62.4 361.3L64.7 360.7L66.4 360.1L68.2 360.5L70.7 360.6L72.6 359.0L74.8 358.4L76.9 358.9L78.8 357.7L80.5 356.2L82.7 355.8L84.3 355.3L86.4 354.2L88.4 350.7L90.8 348.8L92.8 347.5L94.3 345.7L96.4 343.4L98.4 341.7L100.4 338.4L102.4 337.0L104.4 336.2L106.3 335.5L108.6 333.6L110.7 333.5L112.5 332.7L114.8 333.4L116.6 334.5L118.2 336.3L120.7 338.1L122.8 339.4L124.3 340.7L126.1 341.1L128.5 343.6L130.5 344.8L132.6 345.5L134.9 348.5L136.6 349.1L138.7 351.1L140.2 350.6L142.5 353.1L144.7 352.3L146.2 352.6L148.2 353.1L150.7 355.0L152.8 354.7L154.2 353.7L156.6 354.4L158.2 352.9L160.7 351.6L162.6 348.7L164.3 346.1L166.3 340.9L168.7 333.0L170.5 325.2L172.7 315.0L174.4 306.2L176.4 297.0L178.9 285.8L180.6 280.6L182.5 276.8L184.5 276.5L186.7 280.8L188.7 287.0L190.8 296.8L192.4 304.8L194.8 316.9L196.6 326.0L198.8 335.2L200.7 342.1L202.8 348.2L204.8 352.2L206.9 356.0L208.6 357.4L210.5 358.7L212.7 358.7L214.7 359.5L216.4 360.2L218.4 361.7L220.2 361.1L222.7 360.5L224.9 361.6L226.4 361.0L228.2 361.2L230.3 362.0L232.4 360.2L234.3 360.6L236.9 361.8L238.1 361.0L240.3 361.7L242.2 361.6L244.6 361.3L246.7 361.8L248.2 361.7L250.1 361.6L252.5 361.1L254.6 361.9L256.8 362.0L258.1 361.0L260.2 361.8L262.2 360.5L264.3 361.3L266.3 361.0L268.7 361.8" fill="none" stroke="#f04848" stroke-width="1.15"/>
<path d="M50.5 362.1L51.5 362.1L52.5 362.1L53.5 362.1L54.5 362.1L55.5 362.1L56.5 362.0L57.5 362.0L58.5 362.0L59.5 362.0L60.5 361.9L61.5 361.9L62.5 361.9L63.5 361.8L64.5 361.7L65.5 361.7L66.5 361.6L67.5 361.5L68.5 361.4L69.5 361.2L70.5 361.1L71.5 360.9L72.5 360.7L73.5 360.5L74.5 360.2L75.5 359.9L76.5 359.6L77.5 359.2L78.5 358.8L79.5 358.4L80.5 357.9L81.5 357.3L82.5 356.7L83.5 356.1L84.5 355.4L85.5 354.6L86.5 353.8L87.5 353.0L88.5 352.1L89.5 351.1L90.5 350.2L91.5 349.1L92.5 348.1L93.5 347.0L94.5 345.9L95.5 344.8L96.5 343.7L97.5 342.6L98.5 341.6L99.5 340.5L100.5 339.5L101.5 338.6L102.5 337.7L103.5 336.8L104.5 336.1L105.5 335.4L106.5 334.9L107.5 334.4L108.5 334.0L109.5 333.8L110.5 333.7L111.5 333.7L112.5 333.8L113.5 334.0L114.5 334.3L115.5 334.8L116.5 335.3L117.5 335.9L118.5 336.6L119.5 337.4L120.5 338.2L121.5 339.1L122.5 340.0L123.5 340.9L124.5 341.9L125.5 342.9L126.5 343.8L127.5 344.8L128.5 345.7L129.5 346.7L130.5 347.6L131.5 348.4L132.5 349.3L133.5 350.1L134.5 350.9L135.5 351.6L136.5 352.3L137.5 352.9L138.5 353.5L139.5 354.1L140.5 354.6L141.5 355.0L142.5 355.5L143.5 355.8L144.5 356.2L145.5 356.5L146.5 356.7L147.5 357.0L148.5 357.1L149.5 357.3L150.5 357.3L151.5 357.4L152.5 357.3L153.5 357.2L154.5 357.1L155.5 356.8L156.5 356.4L157.5 355.9L158.5 355.2L159.5 354.4L160.5 353.3L161.5 352.0L162.5 350.5L163.5 348.6L164.5 346.4L165.5 343.8L166.5 340.9L167.5 337.6L168.5 334.0L169.5 330.0L170.5 325.6L171.5 321.0L172.5 316.1L173.5 311.2L174.5 306.1L175.5 301.1L176.5 296.3L177.5 291.7L178.5 287.5L179.5 283.9L180.5 280.9L181.5 278.6L182.5 277.2L183.5 276.6L184.5 277.0L185.5 278.2L186.5 280.3L187.5 283.1L188.5 286.6L189.5 290.7L190.5 295.3L191.5 300.1L192.5 305.2L193.5 310.4L194.5 315.5L195.5 320.5L196.5 325.4L197.5 329.9L198.5 334.2L199.5 338.1L200.5 341.6L201.5 344.8L202.5 347.6L203.5 350.0L204.5 352.1L205.5 353.9L206.5 355.4L207.5 356.6L208.5 357.7L209.5 358.5L210.5 359.2L211.5 359.7L212.5 360.2L213.5 360.5L214.5 360.8L215.5 361.0L216.5 361.2L217.5 361.3L218.5 361.4L219.5 361.5L220.5 361.5L221.5 361.6L222.5 361.6L223.5 361.7L224.5 361.7L225.5 361.8L226.5 361.8L227.5 361.8L228.5 361.8L229.5 361.8L230.5 361.9L231.5 361.9L232.5 361.9L233.5 361.9L234.5 361.9L235.5 361.9L236.5 362.0L237.5 362.0L238.5 362.0L239.5 362.0L240.5 362.0L241.5 362.0L242.5 362.0L243.5 362.0L244.5 362.0L245.5 362.0L246.5 362.0L247.5 362.1L248.5 362.1L249.5 362.1L250.5 362.1L251.5 362.1L252.5 362.1L253.5 362.1L254.5 362.1L255.5 362.1L256.5 362.1L257.5 362.1L258.5 362.1L259.5 362.1L260.5 362.1L261.5 362.1L262.5 362.1L263.5 362.1L264.5 362.1L265.5 362.1L266.5 362.2L267.5 362.2L268.5 362.2L268.5 362.3L50.5 362.3Z" fill="url(#gTh)" fill-opacity="0.8" stroke="#bcbcbc" stroke-opacity="0.85" stroke-width="1.1"/>
<path d="M50.5 362.2L51.5 362.2L52.5 362.2L53.5 362.1L54.5 362.1L55.5 362.1L56.5 362.1L57.5 362.1L58.5 362.1L59.5 362.0L60.5 362.0L61.5 362.0L62.5 361.9L63.5 361.9L64.5 361.8L65.5 361.7L66.5 361.6L67.5 361.5L68.5 361.4L69.5 361.3L70.5 361.1L71.5 361.0L72.5 360.8L73.5 360.5L74.5 360.3L75.5 360.0L76.5 359.7L77.5 359.3L78.5 358.9L79.5 358.4L80.5 357.9L81.5 357.4L82.5 356.8L83.5 356.2L84.5 355.5L85.5 354.7L86.5 353.9L87.5 353.1L88.5 352.2L89.5 351.2L90.5 350.3L91.5 349.2L92.5 348.2L93.5 347.1L94.5 346.0L95.5 345.0L96.5 343.9L97.5 342.8L98.5 341.7L99.5 340.7L100.5 339.7L101.5 338.7L102.5 337.8L103.5 337.0L104.5 336.3L105.5 335.6L106.5 335.1L107.5 334.6L108.5 334.3L109.5 334.1L110.5 334.0L111.5 334.0L112.5 334.2L113.5 334.4L114.5 334.8L115.5 335.3L116.5 335.9L117.5 336.6L118.5 337.3L119.5 338.2L120.5 339.1L121.5 340.1L122.5 341.1L123.5 342.1L124.5 343.2L125.5 344.3L126.5 345.4L127.5 346.5L128.5 347.6L129.5 348.6L130.5 349.7L131.5 350.7L132.5 351.6L133.5 352.5L134.5 353.4L135.5 354.2L136.5 355.0L137.5 355.8L138.5 356.4L139.5 357.1L140.5 357.6L141.5 358.1L142.5 358.6L143.5 359.1L144.5 359.4L145.5 359.8L146.5 360.1L147.5 360.4L148.5 360.6L149.5 360.9L150.5 361.0L151.5 361.2L152.5 361.4L153.5 361.5L154.5 361.6L155.5 361.7L156.5 361.8L157.5 361.8L158.5 361.9L159.5 361.9L160.5 362.0L161.5 362.0L162.5 362.0L163.5 362.1L164.5 362.1L165.5 362.1L166.5 362.1L167.5 362.1L168.5 362.1L169.5 362.2L170.5 362.2L171.5 362.2L172.5 362.2L173.5 362.2L174.5 362.2L175.5 362.2L176.5 362.2L177.5 362.2L178.5 362.2L179.5 362.2L180.5 362.2L181.5 362.2L182.5 362.2L183.5 362.2L184.5 362.2L185.5 362.2L186.5 362.2L187.5 362.2L188.5 362.2L189.5 362.2L190.5 362.2L191.5 362.2L192.5 362.2L193.5 362.2L194.5 362.2L195.5 362.2L196.5 362.2L197.5 362.2L198.5 362.2L199.5 362.2L200.5 362.2L201.5 362.2L202.5 362.2L203.5 362.2L204.5 362.2L205.5 362.2L206.5 362.3L207.5 362.3L208.5 362.3L209.5 362.3L210.5 362.3L211.5 362.3L212.5 362.3L213.5 362.3L214.5 362.3L215.5 362.3L216.5 362.3L217.5 362.3L218.5 362.3L219.5 362.3L220.5 362.3L221.5 362.3L222.5 362.3L223.5 362.3L224.5 362.3L225.5 362.3L226.5 362.3L227.5 362.3L228.5 362.3L229.5 362.3L230.5 362.3L231.5 362.3L232.5 362.3L233.5 362.3L234.5 362.3L235.5 362.3L236.5 362.3L237.5 362.3L238.5 362.3L239.5 362.3L240.5 362.3L241.5 362.3L242.5 362.3L243.5 362.3L244.5 362.3L245.5 362.3L246.5 362.3L247.5 362.3L248.5 362.3L249.5 362.3L250.5 362.3L251.5 362.3L252.5 362.3L253.5 362.3L254.5 362.3L255.5 362.3L256.5 362.3L257.5 362.3L258.5 362.3L259.5 362.3L260.5 362.3L261.5 362.3L262.5 362.3L263.5 362.3L264.5 362.3L265.5 362.3L266.5 362.3L267.5 362.3L268.5 362.3L268.5 362.3L50.5 362.3Z" fill="url(#gPink)" stroke="#e8707e" stroke-width="1.1"/>
<path d="M50.5 362.2L51.5 362.2L52.5 362.2L53.5 362.2L54.5 362.2L55.5 362.2L56.5 362.2L57.5 362.2L58.5 362.2L59.5 362.2L60.5 362.2L61.5 362.2L62.5 362.2L63.5 362.2L64.5 362.2L65.5 362.2L66.5 362.2L67.5 362.2L68.5 362.2L69.5 362.2L70.5 362.2L71.5 362.2L72.5 362.2L73.5 362.2L74.5 362.2L75.5 362.2L76.5 362.2L77.5 362.2L78.5 362.2L79.5 362.2L80.5 362.2L81.5 362.2L82.5 362.2L83.5 362.2L84.5 362.2L85.5 362.2L86.5 362.2L87.5 362.2L88.5 362.2L89.5 362.2L90.5 362.2L91.5 362.2L92.5 362.2L93.5 362.2L94.5 362.2L95.5 362.2L96.5 362.2L97.5 362.2L98.5 362.2L99.5 362.2L100.5 362.2L101.5 362.2L102.5 362.2L103.5 362.2L104.5 362.2L105.5 362.2L106.5 362.2L107.5 362.1L108.5 362.1L109.5 362.1L110.5 362.1L111.5 362.1L112.5 362.1L113.5 362.1L114.5 362.1L115.5 362.1L116.5 362.1L117.5 362.1L118.5 362.1L119.5 362.1L120.5 362.1L121.5 362.1L122.5 362.1L123.5 362.1L124.5 362.0L125.5 362.0L126.5 362.0L127.5 362.0L128.5 362.0L129.5 362.0L130.5 362.0L131.5 362.0L132.5 362.0L133.5 362.0L134.5 361.9L135.5 361.9L136.5 361.9L137.5 361.9L138.5 361.9L139.5 361.9L140.5 361.8L141.5 361.8L142.5 361.8L143.5 361.8L144.5 361.7L145.5 361.7L146.5 361.6L147.5 361.6L148.5 361.5L149.5 361.4L150.5 361.3L151.5 361.1L152.5 361.0L153.5 360.7L154.5 360.4L155.5 360.0L156.5 359.5L157.5 358.9L158.5 358.2L159.5 357.2L160.5 356.1L161.5 354.7L162.5 353.0L163.5 351.1L164.5 348.8L165.5 346.2L166.5 343.2L167.5 339.8L168.5 336.1L169.5 332.0L170.5 327.6L171.5 322.9L172.5 318.0L173.5 312.9L174.5 307.8L175.5 302.7L176.5 297.7L177.5 293.1L178.5 288.9L179.5 285.2L180.5 282.1L181.5 279.8L182.5 278.2L183.5 277.6L184.5 277.9L185.5 279.0L186.5 281.1L187.5 283.8L188.5 287.3L189.5 291.4L190.5 295.8L191.5 300.7L192.5 305.7L193.5 310.8L194.5 315.9L195.5 320.9L196.5 325.7L197.5 330.3L198.5 334.5L199.5 338.4L200.5 341.9L201.5 345.0L202.5 347.8L203.5 350.2L204.5 352.3L205.5 354.1L206.5 355.6L207.5 356.8L208.5 357.8L209.5 358.6L210.5 359.3L211.5 359.8L212.5 360.3L213.5 360.6L214.5 360.9L215.5 361.1L216.5 361.2L217.5 361.4L218.5 361.5L219.5 361.6L220.5 361.6L221.5 361.7L222.5 361.7L223.5 361.7L224.5 361.8L225.5 361.8L226.5 361.8L227.5 361.9L228.5 361.9L229.5 361.9L230.5 361.9L231.5 361.9L232.5 361.9L233.5 362.0L234.5 362.0L235.5 362.0L236.5 362.0L237.5 362.0L238.5 362.0L239.5 362.0L240.5 362.0L241.5 362.0L242.5 362.0L243.5 362.1L244.5 362.1L245.5 362.1L246.5 362.1L247.5 362.1L248.5 362.1L249.5 362.1L250.5 362.1L251.5 362.1L252.5 362.1L253.5 362.1L254.5 362.1L255.5 362.1L256.5 362.1L257.5 362.1L258.5 362.1L259.5 362.1L260.5 362.1L261.5 362.2L262.5 362.2L263.5 362.2L264.5 362.2L265.5 362.2L266.5 362.2L267.5 362.2L268.5 362.2L268.5 362.3L50.5 362.3Z" fill="url(#gPur)" stroke="#a058c8" stroke-width="1.05"/>
</g>
<g clip-path="url(#cL4)">
<path d="M50.8 446.6L52.2 448.5L54.2 446.5L56.2 448.2L58.6 445.5L60.7 446.6L62.2 446.9L64.4 447.0L66.8 446.2L68.6 445.8L70.2 445.5L72.3 445.2L74.2 445.8L76.2 443.7L78.4 443.7L80.2 443.2L82.8 443.7L84.4 443.0L86.5 441.6L88.6 439.4L90.7 439.3L92.8 438.0L94.4 437.0L96.4 434.1L98.4 434.0L100.1 433.3L102.4 429.3L104.7 426.9L106.9 425.9L108.7 425.2L110.6 423.7L112.6 424.5L114.1 423.3L116.4 424.8L118.4 424.8L120.6 424.2L122.2 424.5L124.4 425.7L126.5 427.8L128.7 427.0L130.8 428.8L132.6 431.0L134.2 431.9L136.7 433.4L138.8 435.4L140.5 437.1L142.4 435.5L144.5 436.5L146.2 438.3L148.7 438.7L150.9 441.0L152.5 440.2L154.7 442.7L156.8 441.5L158.3 442.4L160.9 441.6L162.6 444.2L164.3 441.7L166.2 442.9L168.3 440.0L170.6 436.0L172.7 432.5L174.4 426.8L176.8 416.8L178.4 409.4L180.5 398.9L182.2 389.3L184.9 377.1L186.2 373.2L188.8 369.5L190.5 370.8L192.5 376.9L194.5 384.9L196.3 392.7L198.8 405.8L200.9 415.4L202.8 422.7L204.6 428.9L206.2 433.8L208.8 439.1L210.3 440.7L212.8 440.1L214.3 440.9L216.6 443.9L218.8 442.3L220.2 444.1L222.5 443.9L224.2 445.0L226.1 442.9L228.2 442.6L230.9 445.2L232.9 443.9L234.6 445.4L236.3 443.3L238.6 446.0L240.7 445.9L242.4 443.9L244.6 445.3L246.7 443.4L248.1 443.6L250.3 444.1L252.5 446.0L254.2 444.2L256.4 443.5L258.6 445.1L260.2 446.3L262.5 445.8L264.3 445.6L266.6 444.3L268.4 446.0" fill="none" stroke="#383838" stroke-width="1.15"/>
<path d="M50.5 450.1L51.5 450.1L52.5 450.1L53.5 450.0L54.5 450.0L55.5 450.0L56.5 450.0L57.5 450.0L58.5 450.0L59.5 449.9L60.5 449.9L61.5 449.9L62.5 449.8L63.5 449.8L64.5 449.7L65.5 449.7L66.5 449.6L67.5 449.5L68.5 449.4L69.5 449.3L70.5 449.2L71.5 449.0L72.5 448.9L73.5 448.7L74.5 448.5L75.5 448.3L76.5 448.0L77.5 447.8L78.5 447.4L79.5 447.1L80.5 446.7L81.5 446.3L82.5 445.9L83.5 445.4L84.5 444.9L85.5 444.4L86.5 443.8L87.5 443.1L88.5 442.5L89.5 441.8L90.5 441.0L91.5 440.2L92.5 439.4L93.5 438.6L94.5 437.7L95.5 436.9L96.5 436.0L97.5 435.1L98.5 434.1L99.5 433.2L100.5 432.3L101.5 431.4L102.5 430.6L103.5 429.7L104.5 428.9L105.5 428.2L106.5 427.4L107.5 426.8L108.5 426.2L109.5 425.7L110.5 425.2L111.5 424.8L112.5 424.5L113.5 424.3L114.5 424.2L115.5 424.1L116.5 424.2L117.5 424.3L118.5 424.5L119.5 424.8L120.5 425.1L121.5 425.5L122.5 426.0L123.5 426.6L124.5 427.2L125.5 427.8L126.5 428.5L127.5 429.2L128.5 429.9L129.5 430.7L130.5 431.5L131.5 432.3L132.5 433.1L133.5 433.9L134.5 434.7L135.5 435.4L136.5 436.2L137.5 437.0L138.5 437.7L139.5 438.4L140.5 439.1L141.5 439.7L142.5 440.3L143.5 440.9L144.5 441.4L145.5 441.9L146.5 442.4L147.5 442.8L148.5 443.2L149.5 443.6L150.5 443.9L151.5 444.2L152.5 444.5L153.5 444.7L154.5 444.9L155.5 445.0L156.5 445.1L157.5 445.2L158.5 445.2L159.5 445.2L160.5 445.2L161.5 445.0L162.5 444.8L163.5 444.5L164.5 444.1L165.5 443.5L166.5 442.7L167.5 441.8L168.5 440.6L169.5 439.1L170.5 437.3L171.5 435.1L172.5 432.6L173.5 429.7L174.5 426.3L175.5 422.5L176.5 418.3L177.5 413.7L178.5 408.9L179.5 403.8L180.5 398.5L181.5 393.3L182.5 388.2L183.5 383.4L184.5 379.1L185.5 375.4L186.5 372.5L187.5 370.6L188.5 369.7L189.5 370.0L190.5 371.2L191.5 373.4L192.5 376.5L193.5 380.2L194.5 384.5L195.5 389.2L196.5 394.1L197.5 399.2L198.5 404.3L199.5 409.2L200.5 414.0L201.5 418.5L202.5 422.6L203.5 426.4L204.5 429.9L205.5 432.9L206.5 435.6L207.5 437.9L208.5 439.9L209.5 441.5L210.5 442.9L211.5 444.1L212.5 445.0L213.5 445.8L214.5 446.4L215.5 447.0L216.5 447.4L217.5 447.7L218.5 448.0L219.5 448.2L220.5 448.4L221.5 448.5L222.5 448.6L223.5 448.8L224.5 448.8L225.5 448.9L226.5 449.0L227.5 449.1L228.5 449.1L229.5 449.2L230.5 449.2L231.5 449.3L232.5 449.3L233.5 449.4L234.5 449.4L235.5 449.4L236.5 449.5L237.5 449.5L238.5 449.5L239.5 449.6L240.5 449.6L241.5 449.6L242.5 449.6L243.5 449.7L244.5 449.7L245.5 449.7L246.5 449.7L247.5 449.7L248.5 449.8L249.5 449.8L250.5 449.8L251.5 449.8L252.5 449.8L253.5 449.8L254.5 449.8L255.5 449.9L256.5 449.9L257.5 449.9L258.5 449.9L259.5 449.9L260.5 449.9L261.5 449.9L262.5 449.9L263.5 449.9L264.5 450.0L265.5 450.0L266.5 450.0L267.5 450.0L268.5 450.0L268.5 450.3L50.5 450.3Z" fill="url(#gTh)" fill-opacity="0.8" stroke="#bcbcbc" stroke-opacity="0.85" stroke-width="1.1"/>
<path d="M50.5 450.2L51.5 450.2L52.5 450.2L53.5 450.1L54.5 450.1L55.5 450.1L56.5 450.1L57.5 450.1L58.5 450.1L59.5 450.0L60.5 450.0L61.5 450.0L62.5 449.9L63.5 449.9L64.5 449.8L65.5 449.8L66.5 449.7L67.5 449.6L68.5 449.5L69.5 449.4L70.5 449.3L71.5 449.2L72.5 449.0L73.5 448.8L74.5 448.6L75.5 448.4L76.5 448.2L77.5 447.9L78.5 447.6L79.5 447.3L80.5 446.9L81.5 446.5L82.5 446.0L83.5 445.6L84.5 445.1L85.5 444.5L86.5 443.9L87.5 443.3L88.5 442.6L89.5 441.9L90.5 441.2L91.5 440.4L92.5 439.6L93.5 438.8L94.5 437.9L95.5 437.1L96.5 436.2L97.5 435.3L98.5 434.4L99.5 433.5L100.5 432.6L101.5 431.7L102.5 430.8L103.5 430.0L104.5 429.2L105.5 428.5L106.5 427.8L107.5 427.1L108.5 426.5L109.5 426.0L110.5 425.6L111.5 425.2L112.5 425.0L113.5 424.8L114.5 424.7L115.5 424.7L116.5 424.8L117.5 425.0L118.5 425.2L119.5 425.6L120.5 426.0L121.5 426.5L122.5 427.1L123.5 427.8L124.5 428.5L125.5 429.2L126.5 430.0L127.5 430.8L128.5 431.7L129.5 432.6L130.5 433.5L131.5 434.4L132.5 435.3L133.5 436.2L134.5 437.1L135.5 437.9L136.5 438.8L137.5 439.6L138.5 440.4L139.5 441.2L140.5 441.9L141.5 442.6L142.5 443.3L143.5 443.9L144.5 444.5L145.5 445.1L146.5 445.6L147.5 446.0L148.5 446.5L149.5 446.9L150.5 447.3L151.5 447.6L152.5 447.9L153.5 448.2L154.5 448.4L155.5 448.6L156.5 448.8L157.5 449.0L158.5 449.2L159.5 449.3L160.5 449.4L161.5 449.5L162.5 449.6L163.5 449.7L164.5 449.8L165.5 449.8L166.5 449.9L167.5 449.9L168.5 450.0L169.5 450.0L170.5 450.0L171.5 450.1L172.5 450.1L173.5 450.1L174.5 450.1L175.5 450.1L176.5 450.1L177.5 450.2L178.5 450.2L179.5 450.2L180.5 450.2L181.5 450.2L182.5 450.2L183.5 450.2L184.5 450.2L185.5 450.2L186.5 450.2L187.5 450.2L188.5 450.2L189.5 450.2L190.5 450.2L191.5 450.2L192.5 450.2L193.5 450.2L194.5 450.2L195.5 450.2L196.5 450.2L197.5 450.2L198.5 450.2L199.5 450.2L200.5 450.2L201.5 450.2L202.5 450.2L203.5 450.2L204.5 450.2L205.5 450.2L206.5 450.2L207.5 450.2L208.5 450.2L209.5 450.2L210.5 450.2L211.5 450.2L212.5 450.2L213.5 450.2L214.5 450.3L215.5 450.3L216.5 450.3L217.5 450.3L218.5 450.3L219.5 450.3L220.5 450.3L221.5 450.3L222.5 450.3L223.5 450.3L224.5 450.3L225.5 450.3L226.5 450.3L227.5 450.3L228.5 450.3L229.5 450.3L230.5 450.3L231.5 450.3L232.5 450.3L233.5 450.3L234.5 450.3L235.5 450.3L236.5 450.3L237.5 450.3L238.5 450.3L239.5 450.3L240.5 450.3L241.5 450.3L242.5 450.3L243.5 450.3L244.5 450.3L245.5 450.3L246.5 450.3L247.5 450.3L248.5 450.3L249.5 450.3L250.5 450.3L251.5 450.3L252.5 450.3L253.5 450.3L254.5 450.3L255.5 450.3L256.5 450.3L257.5 450.3L258.5 450.3L259.5 450.3L260.5 450.3L261.5 450.3L262.5 450.3L263.5 450.3L264.5 450.3L265.5 450.3L266.5 450.3L267.5 450.3L268.5 450.3L268.5 450.3L50.5 450.3Z" fill="url(#gPink)" stroke="#e8707e" stroke-width="1.1"/>
<path d="M50.5 450.2L51.5 450.2L52.5 450.2L53.5 450.2L54.5 450.2L55.5 450.2L56.5 450.2L57.5 450.2L58.5 450.2L59.5 450.2L60.5 450.2L61.5 450.2L62.5 450.2L63.5 450.2L64.5 450.2L65.5 450.2L66.5 450.2L67.5 450.2L68.5 450.2L69.5 450.2L70.5 450.2L71.5 450.2L72.5 450.2L73.5 450.2L74.5 450.2L75.5 450.2L76.5 450.2L77.5 450.2L78.5 450.2L79.5 450.2L80.5 450.2L81.5 450.2L82.5 450.1L83.5 450.1L84.5 450.1L85.5 450.1L86.5 450.1L87.5 450.1L88.5 450.1L89.5 450.1L90.5 450.1L91.5 450.1L92.5 450.1L93.5 450.1L94.5 450.1L95.5 450.1L96.5 450.1L97.5 450.1L98.5 450.1L99.5 450.1L100.5 450.1L101.5 450.1L102.5 450.1L103.5 450.1L104.5 450.1L105.5 450.1L106.5 450.1L107.5 450.0L108.5 450.0L109.5 450.0L110.5 450.0L111.5 450.0L112.5 450.0L113.5 450.0L114.5 450.0L115.5 450.0L116.5 450.0L117.5 450.0L118.5 450.0L119.5 450.0L120.5 449.9L121.5 449.9L122.5 449.9L123.5 449.9L124.5 449.9L125.5 449.9L126.5 449.9L127.5 449.9L128.5 449.8L129.5 449.8L130.5 449.8L131.5 449.8L132.5 449.8L133.5 449.8L134.5 449.7L135.5 449.7L136.5 449.7L137.5 449.7L138.5 449.7L139.5 449.6L140.5 449.6L141.5 449.6L142.5 449.5L143.5 449.5L144.5 449.5L145.5 449.4L146.5 449.4L147.5 449.4L148.5 449.3L149.5 449.3L150.5 449.2L151.5 449.1L152.5 449.1L153.5 449.0L154.5 448.9L155.5 448.8L156.5 448.7L157.5 448.6L158.5 448.5L159.5 448.3L160.5 448.1L161.5 447.8L162.5 447.4L163.5 447.0L164.5 446.4L165.5 445.8L166.5 444.9L167.5 443.8L168.5 442.6L169.5 441.0L170.5 439.1L171.5 436.9L172.5 434.2L173.5 431.2L174.5 427.8L175.5 423.9L176.5 419.6L177.5 415.0L178.5 410.0L179.5 404.9L180.5 399.6L181.5 394.3L182.5 389.1L183.5 384.3L184.5 379.9L185.5 376.1L186.5 373.2L187.5 371.2L188.5 370.4L189.5 370.5L190.5 371.8L191.5 373.9L192.5 376.9L193.5 380.6L194.5 384.9L195.5 389.5L196.5 394.5L197.5 399.5L198.5 404.6L199.5 409.5L200.5 414.2L201.5 418.7L202.5 422.8L203.5 426.6L204.5 430.1L205.5 433.1L206.5 435.7L207.5 438.0L208.5 440.0L209.5 441.7L210.5 443.1L211.5 444.2L212.5 445.2L213.5 445.9L214.5 446.5L215.5 447.1L216.5 447.5L217.5 447.8L218.5 448.0L219.5 448.3L220.5 448.4L221.5 448.6L222.5 448.7L223.5 448.8L224.5 448.9L225.5 449.0L226.5 449.1L227.5 449.1L228.5 449.2L229.5 449.2L230.5 449.3L231.5 449.3L232.5 449.4L233.5 449.4L234.5 449.4L235.5 449.5L236.5 449.5L237.5 449.5L238.5 449.6L239.5 449.6L240.5 449.6L241.5 449.6L242.5 449.7L243.5 449.7L244.5 449.7L245.5 449.7L246.5 449.8L247.5 449.8L248.5 449.8L249.5 449.8L250.5 449.8L251.5 449.8L252.5 449.8L253.5 449.9L254.5 449.9L255.5 449.9L256.5 449.9L257.5 449.9L258.5 449.9L259.5 449.9L260.5 449.9L261.5 450.0L262.5 450.0L263.5 450.0L264.5 450.0L265.5 450.0L266.5 450.0L267.5 450.0L268.5 450.0L268.5 450.3L50.5 450.3Z" fill="url(#gPur)" stroke="#a058c8" stroke-width="1.05"/>
</g>
<line x1="178.4" y1="10.5" x2="178.4" y2="450" stroke="#fbc65a" stroke-width="1.5" stroke-dasharray="10 4 1.5 4 1.5 5"/>
<line x1="189.5" y1="10.5" x2="189.5" y2="450" stroke="#fbc65a" stroke-width="1.5" stroke-dasharray="10 4 1.5 4 1.5 5"/>
<rect x="50.5" y="10.3" width="217.8" height="88.0" fill="none" stroke="#222" stroke-width="1.4"/>
<path d="M261.0 95.8V101.8M248.3 98.3V101.3M235.6 95.8V101.8M222.9 98.3V101.3M210.2 95.8V101.8M197.5 98.3V101.3M184.8 95.8V101.8M172.1 98.3V101.3M159.4 95.8V101.8M146.7 98.3V101.3M134.0 95.8V101.8M121.3 98.3V101.3M108.6 95.8V101.8M95.9 98.3V101.3M83.2 95.8V101.8M70.5 98.3V101.3M57.8 95.8V101.8" stroke="#222" stroke-width="1"/>
<rect x="50.5" y="98.3" width="217.8" height="88.0" fill="none" stroke="#222" stroke-width="1.4"/>
<path d="M261.0 183.8V189.8M248.3 186.3V189.3M235.6 183.8V189.8M222.9 186.3V189.3M210.2 183.8V189.8M197.5 186.3V189.3M184.8 183.8V189.8M172.1 186.3V189.3M159.4 183.8V189.8M146.7 186.3V189.3M134.0 183.8V189.8M121.3 186.3V189.3M108.6 183.8V189.8M95.9 186.3V189.3M83.2 183.8V189.8M70.5 186.3V189.3M57.8 183.8V189.8" stroke="#222" stroke-width="1"/>
<rect x="50.5" y="186.3" width="217.8" height="88.0" fill="none" stroke="#222" stroke-width="1.4"/>
<path d="M261.0 271.8V277.8M248.3 274.3V277.3M235.6 271.8V277.8M222.9 274.3V277.3M210.2 271.8V277.8M197.5 274.3V277.3M184.8 271.8V277.8M172.1 274.3V277.3M159.4 271.8V277.8M146.7 274.3V277.3M134.0 271.8V277.8M121.3 274.3V277.3M108.6 271.8V277.8M95.9 274.3V277.3M83.2 271.8V277.8M70.5 274.3V277.3M57.8 271.8V277.8" stroke="#222" stroke-width="1"/>
<rect x="50.5" y="274.3" width="217.8" height="88.0" fill="none" stroke="#222" stroke-width="1.4"/>
<path d="M261.0 359.8V365.8M248.3 362.3V365.3M235.6 359.8V365.8M222.9 362.3V365.3M210.2 359.8V365.8M197.5 362.3V365.3M184.8 359.8V365.8M172.1 362.3V365.3M159.4 359.8V365.8M146.7 362.3V365.3M134.0 359.8V365.8M121.3 362.3V365.3M108.6 359.8V365.8M95.9 362.3V365.3M83.2 359.8V365.8M70.5 362.3V365.3M57.8 359.8V365.8" stroke="#222" stroke-width="1"/>
<rect x="50.5" y="362.3" width="217.8" height="88.0" fill="none" stroke="#222" stroke-width="1.4"/>
<path d="M261.0 447.8V453.8M248.3 450.3V453.3M235.6 447.8V453.8M222.9 450.3V453.3M210.2 447.8V453.8M197.5 450.3V453.3M184.8 447.8V453.8M172.1 450.3V453.3M159.4 447.8V453.8M146.7 450.3V453.3M134.0 447.8V453.8M121.3 450.3V453.3M108.6 447.8V453.8M95.9 450.3V453.3M83.2 447.8V453.8M70.5 450.3V453.3M57.8 447.8V453.8" stroke="#222" stroke-width="1"/>
<path d="M51.2 98.3H140" stroke="#e0687a" stroke-width="1.3"/>
<path d="M140 98.3H267.6" stroke="#9c52c6" stroke-width="1.3"/>
<path d="M51.2 186.3H140" stroke="#e0687a" stroke-width="1.3"/>
<path d="M140 186.3H267.6" stroke="#9c52c6" stroke-width="1.3"/>
<path d="M51.2 274.3H140" stroke="#e0687a" stroke-width="1.3"/>
<path d="M140 274.3H267.6" stroke="#9c52c6" stroke-width="1.3"/>
<path d="M51.2 362.3H140" stroke="#e0687a" stroke-width="1.3"/>
<path d="M140 362.3H267.6" stroke="#9c52c6" stroke-width="1.3"/>
<path d="M51.2 450.3H140" stroke="#e0687a" stroke-width="1.3"/>
<path d="M140 450.3H267.6" stroke="#9c52c6" stroke-width="1.3"/>
<g clip-path="url(#cR0)">
<path d="M319.8 98.1L322.5 98.1L325.6 96.9L328.3 98.1L330.4 94.5L333.4 96.4L336.3 93.1L338.5 94.6L340.7 92.5L343.4 92.2L346.7 91.8L349.0 87.5L351.1 89.8L354.2 88.8L356.1 87.6L359.8 86.5L361.7 84.9L364.4 87.5L367.0 78.1L369.1 78.3L372.3 78.4L374.5 76.0L377.1 70.1L380.4 67.7L382.1 66.4L384.9 60.6L388.1 56.1L390.1 51.1L392.7 47.2L395.7 42.7L397.8 38.1L401.3 33.0L404.0 30.9L405.4 28.4L408.6 25.9L411.5 21.5L413.7 18.9L416.9 13.3L419.0 12.7L421.2 12.6L424.3 10.7L427.0 12.3L429.2 12.7L432.2 15.7L434.9 21.9L437.2 25.8L439.8 28.2L442.8 27.0L445.2 31.6L447.6 33.2L450.7 27.6L452.4 25.6L455.7 23.6L457.6 23.7L460.7 19.7L462.9 20.4L465.7 19.5L468.7 23.4L471.3 30.3L473.9 37.2L475.9 43.3L478.8 51.1L481.1 59.6L484.1 73.3L486.6 80.0L488.6 85.7L491.9 84.8L494.7 86.6L497.1 91.4L500.0 91.7L501.8 93.0L504.4 93.4L506.8 95.2L510.0 96.0L512.5 96.9L515.1 96.2L517.5 96.2L520.8 97.1L522.5 96.7L526.1 96.7L528.3 97.8L530.9 97.4L533.7 97.3L535.7 97.5L538.2 98.1" fill="none" stroke="#ee2fa0" stroke-width="1.2"/>
<path d="M320.2 98.4L321.2 98.4L322.2 98.4L323.2 98.4L324.2 98.4L325.2 98.3L326.2 98.3L327.2 98.3L328.2 98.3L329.2 98.3L330.2 98.3L331.2 98.3L332.2 98.3L333.2 98.2L334.2 98.2L335.2 98.2L336.2 98.1L337.2 98.1L338.2 97.9L339.2 97.8L340.2 97.6L341.2 97.4L342.2 97.3L343.2 97.0L344.2 96.8L345.2 96.6L346.2 96.4L347.2 96.2L348.2 96.0L349.2 95.7L350.2 95.5L351.2 95.2L352.2 94.9L353.2 94.6L354.2 94.3L355.2 93.9L356.2 93.6L357.2 93.2L358.2 92.8L359.2 92.4L360.2 92.0L361.2 91.5L362.2 91.0L363.2 90.5L364.2 90.0L365.2 89.3L366.2 88.6L367.2 87.8L368.2 87.0L369.2 86.1L370.2 85.2L371.2 84.2L372.2 83.1L373.2 81.8L374.2 80.5L375.2 79.0L376.2 77.6L377.2 76.1L378.2 74.7L379.2 73.3L380.2 71.9L381.2 70.4L382.2 68.9L383.2 67.2L384.2 65.3L385.2 63.5L386.2 61.7L387.2 60.0L388.2 58.3L389.2 56.7L390.2 55.0L391.2 53.3L392.2 51.6L393.2 49.8L394.2 48.0L395.2 46.3L396.2 44.5L397.2 42.8L398.2 41.1L399.2 39.5L400.2 38.0L401.2 36.5L402.2 35.1L403.2 33.7L404.2 32.3L405.2 30.9L406.2 29.6L407.2 28.3L408.2 26.9L409.2 25.7L410.2 24.4L411.2 23.1L412.2 21.8L413.2 20.5L414.2 19.0L415.2 17.4L416.2 15.8L417.2 14.4L418.2 13.1L419.2 12.2L420.2 11.7L421.2 11.5L422.2 11.3L423.2 11.1L424.2 11.0L425.2 10.9L426.2 10.8L427.2 10.9L428.2 11.5L429.2 12.6L430.2 14.1L431.2 15.8L432.2 17.7L433.2 19.6L434.2 21.5L435.2 23.1L436.2 24.9L437.2 26.8L438.2 28.7L439.2 30.4L440.2 31.7L441.2 32.6L442.2 33.4L443.2 34.1L444.2 34.8L445.2 35.3L446.2 35.6L447.2 35.8L448.2 35.6L449.2 34.8L450.2 33.5L451.2 31.9L452.2 30.3L453.2 28.6L454.2 27.2L455.2 26.1L456.2 24.9L457.2 23.8L458.2 22.6L459.2 21.6L460.2 20.8L461.2 20.2L462.2 20.0L463.2 20.1L464.2 20.4L465.2 20.9L466.2 21.6L467.2 22.3L468.2 23.2L469.2 25.1L470.2 27.8L471.2 30.9L472.2 34.2L473.2 37.3L474.2 40.1L475.2 43.0L476.2 45.9L477.2 48.8L478.2 51.8L479.2 54.9L480.2 58.2L481.2 61.7L482.2 66.0L483.2 70.6L484.2 75.1L485.2 79.0L486.2 81.8L487.2 83.7L488.2 85.4L489.2 86.9L490.2 88.2L491.2 89.3L492.2 90.3L493.2 91.0L494.2 91.6L495.2 92.1L496.2 92.5L497.2 92.9L498.2 93.3L499.2 93.6L500.2 93.9L501.2 94.2L502.2 94.5L503.2 94.7L504.2 94.9L505.2 95.1L506.2 95.3L507.2 95.4L508.2 95.6L509.2 95.7L510.2 95.9L511.2 96.0L512.2 96.1L513.2 96.2L514.2 96.4L515.2 96.5L516.2 96.6L517.2 96.7L518.2 96.8L519.2 96.9L520.2 97.0L521.2 97.0L522.2 97.1L523.2 97.2L524.2 97.3L525.2 97.4L526.2 97.5L527.2 97.5L528.2 97.6L529.2 97.7L530.2 97.7L531.2 97.8L532.2 97.9L533.2 97.9L534.2 98.0L535.2 98.1L536.2 98.1L537.2 98.2L538.2 98.3L539.2 98.3L539.2 98.6L320.2 98.6Z" fill="url(#gTh)" fill-opacity="0.78" stroke="#b4b4b4" stroke-opacity="0.8" stroke-width="1.5"/>
<path d="M320.2 98.6L321.2 98.6L322.2 98.6L323.2 98.6L324.2 98.6L325.2 98.6L326.2 98.6L327.2 98.6L328.2 98.6L329.2 98.6L330.2 98.6L331.2 98.5L332.2 98.5L333.2 98.5L334.2 98.5L335.2 98.5L336.2 98.5L337.2 98.5L338.2 98.5L339.2 98.5L340.2 98.5L341.2 98.5L342.2 98.5L343.2 98.5L344.2 98.5L345.2 98.5L346.2 98.4L347.2 98.4L348.2 98.4L349.2 98.4L350.2 98.3L351.2 98.3L352.2 98.3L353.2 98.2L354.2 98.1L355.2 98.1L356.2 98.0L357.2 97.8L358.2 97.7L359.2 97.5L360.2 97.3L361.2 97.1L362.2 96.8L363.2 96.5L364.2 96.1L365.2 95.7L366.2 95.3L367.2 94.7L368.2 94.1L369.2 93.4L370.2 92.7L371.2 91.8L372.2 90.9L373.2 89.9L374.2 88.9L375.2 87.7L376.2 86.5L377.2 85.1L378.2 83.8L379.2 82.3L380.2 80.9L381.2 79.3L382.2 77.8L383.2 76.2L384.2 74.7L385.2 73.2L386.2 71.7L387.2 70.3L388.2 69.0L389.2 67.8L390.2 66.7L391.2 65.8L392.2 65.0L393.2 64.4L394.2 64.0L395.2 63.7L396.2 63.7L397.2 63.8L398.2 64.1L399.2 64.6L400.2 65.3L401.2 66.2L402.2 67.2L403.2 68.3L404.2 69.5L405.2 70.9L406.2 72.3L407.2 73.8L408.2 75.3L409.2 76.9L410.2 78.4L411.2 79.9L412.2 81.4L413.2 82.9L414.2 84.3L415.2 85.7L416.2 87.0L417.2 88.2L418.2 89.3L419.2 90.3L420.2 91.3L421.2 92.2L422.2 93.0L423.2 93.7L424.2 94.4L425.2 94.9L426.2 95.5L427.2 95.9L428.2 96.3L429.2 96.6L430.2 96.9L431.2 97.2L432.2 97.4L433.2 97.6L434.2 97.7L435.2 97.9L436.2 98.0L437.2 98.1L438.2 98.2L439.2 98.2L440.2 98.3L441.2 98.3L442.2 98.4L443.2 98.4L444.2 98.4L445.2 98.4L446.2 98.5L447.2 98.5L448.2 98.5L449.2 98.5L450.2 98.5L451.2 98.5L452.2 98.5L453.2 98.5L454.2 98.5L455.2 98.5L456.2 98.5L457.2 98.5L458.2 98.5L459.2 98.5L460.2 98.5L461.2 98.6L462.2 98.6L463.2 98.6L464.2 98.6L465.2 98.6L466.2 98.6L467.2 98.6L468.2 98.6L469.2 98.6L470.2 98.6L471.2 98.6L472.2 98.6L473.2 98.6L474.2 98.6L475.2 98.6L476.2 98.6L477.2 98.6L478.2 98.6L479.2 98.6L480.2 98.6L481.2 98.6L482.2 98.6L483.2 98.6L484.2 98.6L485.2 98.6L486.2 98.6L487.2 98.6L488.2 98.6L489.2 98.6L490.2 98.6L491.2 98.6L492.2 98.6L493.2 98.6L494.2 98.6L495.2 98.6L496.2 98.6L497.2 98.6L498.2 98.6L499.2 98.6L500.2 98.6L501.2 98.6L502.2 98.6L503.2 98.6L504.2 98.6L505.2 98.6L506.2 98.6L507.2 98.6L508.2 98.6L509.2 98.6L510.2 98.6L511.2 98.6L512.2 98.6L513.2 98.6L514.2 98.6L515.2 98.6L516.2 98.6L517.2 98.6L518.2 98.6L519.2 98.6L520.2 98.6L521.2 98.6L522.2 98.6L523.2 98.6L524.2 98.6L525.2 98.6L526.2 98.6L527.2 98.6L528.2 98.6L529.2 98.6L530.2 98.6L531.2 98.6L532.2 98.6L533.2 98.6L534.2 98.6L535.2 98.6L536.2 98.6L537.2 98.6L538.2 98.6L539.2 98.6L539.2 98.6L320.2 98.6Z" fill="url(#gSurf)" fill-opacity="0.9" stroke="#f0a8b6" stroke-width="0.8"/>
<path d="M320.2 98.3L321.2 98.3L322.2 98.2L323.2 98.2L324.2 98.2L325.2 98.2L326.2 98.2L327.2 98.2L328.2 98.2L329.2 98.2L330.2 98.2L331.2 98.2L332.2 98.2L333.2 98.1L334.2 98.1L335.2 98.1L336.2 98.1L337.2 98.1L338.2 98.1L339.2 98.1L340.2 98.1L341.2 98.1L342.2 98.0L343.2 98.0L344.2 98.0L345.2 98.0L346.2 98.0L347.2 98.0L348.2 97.9L349.2 97.9L350.2 97.9L351.2 97.9L352.2 97.9L353.2 97.8L354.2 97.8L355.2 97.8L356.2 97.8L357.2 97.8L358.2 97.7L359.2 97.7L360.2 97.7L361.2 97.6L362.2 97.6L363.2 97.6L364.2 97.5L365.2 97.5L366.2 97.5L367.2 97.4L368.2 97.4L369.2 97.3L370.2 97.3L371.2 97.2L372.2 97.2L373.2 97.1L374.2 97.0L375.2 96.9L376.2 96.8L377.2 96.7L378.2 96.6L379.2 96.4L380.2 96.2L381.2 96.1L382.2 95.8L383.2 95.6L384.2 95.3L385.2 95.0L386.2 94.6L387.2 94.1L388.2 93.6L389.2 93.1L390.2 92.4L391.2 91.7L392.2 90.8L393.2 89.9L394.2 88.9L395.2 87.7L396.2 86.4L397.2 85.0L398.2 83.5L399.2 81.8L400.2 79.9L401.2 77.9L402.2 75.8L403.2 73.5L404.2 71.1L405.2 68.5L406.2 65.9L407.2 63.1L408.2 60.2L409.2 57.2L410.2 54.2L411.2 51.1L412.2 48.0L413.2 45.0L414.2 42.0L415.2 39.1L416.2 36.3L417.2 33.7L418.2 31.3L419.2 29.1L420.2 27.2L421.2 25.6L422.2 24.4L423.2 23.5L424.2 23.0L425.2 22.9L426.2 23.0L427.2 23.5L428.2 24.2L429.2 25.2L430.2 26.4L431.2 27.9L432.2 29.5L433.2 31.4L434.2 33.4L435.2 35.5L436.2 37.8L437.2 40.2L438.2 42.6L439.2 45.1L440.2 47.6L441.2 50.2L442.2 52.7L443.2 55.3L444.2 57.8L445.2 60.3L446.2 62.7L447.2 65.0L448.2 67.3L449.2 69.5L450.2 71.6L451.2 73.6L452.2 75.5L453.2 77.3L454.2 79.0L455.2 80.6L456.2 82.1L457.2 83.5L458.2 84.8L459.2 86.0L460.2 87.1L461.2 88.2L462.2 89.1L463.2 89.9L464.2 90.7L465.2 91.4L466.2 92.1L467.2 92.7L468.2 93.2L469.2 93.6L470.2 94.1L471.2 94.4L472.2 94.8L473.2 95.1L474.2 95.4L475.2 95.6L476.2 95.8L477.2 96.0L478.2 96.2L479.2 96.3L480.2 96.4L481.2 96.6L482.2 96.7L483.2 96.8L484.2 96.9L485.2 96.9L486.2 97.0L487.2 97.1L488.2 97.1L489.2 97.2L490.2 97.2L491.2 97.3L492.2 97.3L493.2 97.4L494.2 97.4L495.2 97.5L496.2 97.5L497.2 97.5L498.2 97.5L499.2 97.6L500.2 97.6L501.2 97.6L502.2 97.7L503.2 97.7L504.2 97.7L505.2 97.7L506.2 97.7L507.2 97.8L508.2 97.8L509.2 97.8L510.2 97.8L511.2 97.8L512.2 97.9L513.2 97.9L514.2 97.9L515.2 97.9L516.2 97.9L517.2 97.9L518.2 98.0L519.2 98.0L520.2 98.0L521.2 98.0L522.2 98.0L523.2 98.0L524.2 98.0L525.2 98.0L526.2 98.1L527.2 98.1L528.2 98.1L529.2 98.1L530.2 98.1L531.2 98.1L532.2 98.1L533.2 98.1L534.2 98.1L535.2 98.1L536.2 98.2L537.2 98.2L538.2 98.2L539.2 98.2L539.2 98.6L320.2 98.6Z" fill="url(#gOr)" fill-opacity="0.82" stroke="#f4a878" stroke-width="0.8"/>
<path d="M320.2 98.5L321.2 98.5L322.2 98.5L323.2 98.5L324.2 98.5L325.2 98.5L326.2 98.5L327.2 98.5L328.2 98.5L329.2 98.5L330.2 98.5L331.2 98.5L332.2 98.5L333.2 98.5L334.2 98.5L335.2 98.5L336.2 98.5L337.2 98.5L338.2 98.5L339.2 98.5L340.2 98.5L341.2 98.5L342.2 98.5L343.2 98.5L344.2 98.5L345.2 98.4L346.2 98.4L347.2 98.4L348.2 98.4L349.2 98.4L350.2 98.4L351.2 98.4L352.2 98.4L353.2 98.4L354.2 98.4L355.2 98.4L356.2 98.4L357.2 98.4L358.2 98.4L359.2 98.4L360.2 98.4L361.2 98.4L362.2 98.4L363.2 98.4L364.2 98.4L365.2 98.4L366.2 98.4L367.2 98.3L368.2 98.3L369.2 98.3L370.2 98.3L371.2 98.3L372.2 98.3L373.2 98.3L374.2 98.3L375.2 98.3L376.2 98.3L377.2 98.3L378.2 98.3L379.2 98.3L380.2 98.3L381.2 98.2L382.2 98.2L383.2 98.2L384.2 98.2L385.2 98.2L386.2 98.2L387.2 98.2L388.2 98.2L389.2 98.2L390.2 98.1L391.2 98.1L392.2 98.1L393.2 98.1L394.2 98.1L395.2 98.1L396.2 98.0L397.2 98.0L398.2 98.0L399.2 98.0L400.2 98.0L401.2 98.0L402.2 97.9L403.2 97.9L404.2 97.9L405.2 97.9L406.2 97.8L407.2 97.8L408.2 97.8L409.2 97.7L410.2 97.7L411.2 97.7L412.2 97.6L413.2 97.6L414.2 97.6L415.2 97.5L416.2 97.5L417.2 97.4L418.2 97.4L419.2 97.3L420.2 97.3L421.2 97.2L422.2 97.1L423.2 97.0L424.2 97.0L425.2 96.9L426.2 96.7L427.2 96.6L428.2 96.4L429.2 96.3L430.2 96.0L431.2 95.8L432.2 95.5L433.2 95.1L434.2 94.7L435.2 94.2L436.2 93.6L437.2 92.9L438.2 92.1L439.2 91.2L440.2 90.1L441.2 88.8L442.2 87.3L443.2 85.7L444.2 83.8L445.2 81.7L446.2 79.4L447.2 76.9L448.2 74.2L449.2 71.2L450.2 68.1L451.2 64.8L452.2 61.3L453.2 57.8L454.2 54.2L455.2 50.6L456.2 47.1L457.2 43.8L458.2 40.6L459.2 37.7L460.2 35.2L461.2 33.2L462.2 31.6L463.2 30.6L464.2 30.3L465.2 30.5L466.2 31.4L467.2 32.8L468.2 34.8L469.2 37.2L470.2 40.0L471.2 43.1L472.2 46.4L473.2 49.9L474.2 53.5L475.2 57.1L476.2 60.6L477.2 64.1L478.2 67.4L479.2 70.6L480.2 73.6L481.2 76.4L482.2 79.0L483.2 81.3L484.2 83.4L485.2 85.3L486.2 87.0L487.2 88.5L488.2 89.8L489.2 91.0L490.2 91.9L491.2 92.8L492.2 93.5L493.2 94.1L494.2 94.6L495.2 95.1L496.2 95.4L497.2 95.7L498.2 96.0L499.2 96.2L500.2 96.4L501.2 96.6L502.2 96.7L503.2 96.8L504.2 96.9L505.2 97.0L506.2 97.1L507.2 97.2L508.2 97.3L509.2 97.3L510.2 97.4L511.2 97.4L512.2 97.5L513.2 97.5L514.2 97.6L515.2 97.6L516.2 97.6L517.2 97.7L518.2 97.7L519.2 97.7L520.2 97.8L521.2 97.8L522.2 97.8L523.2 97.9L524.2 97.9L525.2 97.9L526.2 97.9L527.2 97.9L528.2 98.0L529.2 98.0L530.2 98.0L531.2 98.0L532.2 98.0L533.2 98.1L534.2 98.1L535.2 98.1L536.2 98.1L537.2 98.1L538.2 98.1L539.2 98.1L539.2 98.6L320.2 98.6Z" fill="url(#gBlue)" fill-opacity="0.8" stroke="#6f74e2" stroke-width="1"/>
</g>
<g clip-path="url(#cR1)">
<path d="M320.0 187.0L322.3 187.0L325.3 187.0L327.5 184.4L330.6 184.2L333.3 183.5L335.8 184.6L338.2 181.1L340.7 181.3L343.0 179.6L346.0 178.0L349.3 180.6L351.5 177.5L353.7 182.3L356.8 176.8L358.8 174.5L361.8 175.0L364.5 174.3L367.5 171.6L369.4 174.9L372.3 175.8L375.3 170.1L377.7 165.3L380.2 167.9L382.7 162.3L385.1 159.8L387.7 154.8L390.1 153.0L393.4 146.5L396.1 141.2L398.1 141.0L401.3 138.4L402.8 143.5L405.6 135.9L408.6 137.3L411.0 140.5L413.6 136.1L417.0 135.5L418.6 137.3L421.2 136.5L423.9 140.7L427.0 133.5L429.1 137.2L431.4 135.0L434.7 135.9L437.1 134.1L439.5 131.9L442.4 134.1L445.2 129.3L447.7 123.4L450.3 114.8L452.9 109.2L455.8 102.3L458.6 101.5L460.4 104.2L463.0 101.6L466.3 105.7L468.2 112.2L471.3 122.5L473.8 132.7L476.4 142.4L479.4 153.2L481.8 160.1L483.6 166.5L486.7 173.1L489.2 176.5L491.9 180.7L494.2 181.0L496.7 183.0L499.9 183.0L502.2 184.3L504.5 184.7L507.1 183.8L509.8 186.1L512.2 184.7L515.2 185.0L517.4 185.3L519.9 186.8L522.5 186.4L525.1 187.0L528.4 186.6L530.3 186.3L533.3 187.0L536.3 187.0L538.6 187.0" fill="none" stroke="#22cc22" stroke-width="1.2"/>
<path d="M320.2 187.3L321.2 187.3L322.2 187.2L323.2 187.2L324.2 187.2L325.2 187.2L326.2 187.1L327.2 187.1L328.2 187.1L329.2 187.1L330.2 187.0L331.2 187.0L332.2 186.9L333.2 186.9L334.2 186.8L335.2 186.8L336.2 186.7L337.2 186.5L338.2 186.3L339.2 186.1L340.2 185.8L341.2 185.6L342.2 185.3L343.2 185.1L344.2 184.9L345.2 184.7L346.2 184.5L347.2 184.3L348.2 184.1L349.2 184.0L350.2 183.8L351.2 183.7L352.2 183.5L353.2 183.3L354.2 183.2L355.2 183.0L356.2 182.8L357.2 182.6L358.2 182.3L359.2 182.1L360.2 181.8L361.2 181.6L362.2 181.2L363.2 180.9L364.2 180.5L365.2 180.1L366.2 179.7L367.2 179.3L368.2 178.8L369.2 178.3L370.2 177.7L371.2 177.2L372.2 176.5L373.2 175.8L374.2 175.0L375.2 174.1L376.2 173.2L377.2 172.2L378.2 171.2L379.2 170.1L380.2 169.0L381.2 167.9L382.2 166.6L383.2 165.3L384.2 163.9L385.2 162.5L386.2 161.0L387.2 159.5L388.2 158.1L389.2 156.6L390.2 155.0L391.2 153.3L392.2 151.8L393.2 150.4L394.2 149.3L395.2 148.4L396.2 147.6L397.2 146.9L398.2 146.2L399.2 145.6L400.2 145.0L401.2 144.5L402.2 144.0L403.2 143.6L404.2 143.2L405.2 142.9L406.2 142.5L407.2 142.2L408.2 141.9L409.2 141.7L410.2 141.4L411.2 141.2L412.2 141.0L413.2 140.8L414.2 140.6L415.2 140.4L416.2 140.3L417.2 140.1L418.2 140.0L419.2 139.9L420.2 139.8L421.2 139.7L422.2 139.6L423.2 139.5L424.2 139.4L425.2 139.3L426.2 139.2L427.2 139.0L428.2 138.9L429.2 138.8L430.2 138.6L431.2 138.5L432.2 138.4L433.2 138.2L434.2 138.1L435.2 137.9L436.2 137.7L437.2 137.4L438.2 137.1L439.2 136.8L440.2 136.3L441.2 135.8L442.2 135.1L443.2 134.2L444.2 132.9L445.2 130.7L446.2 127.8L447.2 124.9L448.2 122.2L449.2 119.4L450.2 116.4L451.2 113.6L452.2 111.0L453.2 108.8L454.2 106.6L455.2 104.4L456.2 102.5L457.2 100.9L458.2 100.0L459.2 99.8L460.2 100.0L461.2 100.4L462.2 100.9L463.2 101.5L464.2 102.3L465.2 103.3L466.2 105.4L467.2 108.3L468.2 111.6L469.2 115.2L470.2 118.7L471.2 122.2L472.2 126.1L473.2 130.2L474.2 134.4L475.2 138.4L476.2 142.1L477.2 145.7L478.2 149.2L479.2 152.7L480.2 156.0L481.2 159.1L482.2 162.1L483.2 165.2L484.2 168.3L485.2 171.1L486.2 173.5L487.2 175.3L488.2 176.5L489.2 177.7L490.2 178.7L491.2 179.7L492.2 180.5L493.2 181.2L494.2 181.9L495.2 182.4L496.2 182.8L497.2 183.2L498.2 183.4L499.2 183.7L500.2 184.0L501.2 184.2L502.2 184.4L503.2 184.6L504.2 184.8L505.2 185.0L506.2 185.1L507.2 185.3L508.2 185.4L509.2 185.5L510.2 185.6L511.2 185.7L512.2 185.8L513.2 185.9L514.2 186.0L515.2 186.1L516.2 186.1L517.2 186.2L518.2 186.3L519.2 186.3L520.2 186.4L521.2 186.5L522.2 186.5L523.2 186.6L524.2 186.6L525.2 186.7L526.2 186.7L527.2 186.8L528.2 186.8L529.2 186.9L530.2 186.9L531.2 186.9L532.2 187.0L533.2 187.0L534.2 187.1L535.2 187.1L536.2 187.2L537.2 187.2L538.2 187.3L539.2 187.3L539.2 187.5L320.2 187.5Z" fill="url(#gTh)" fill-opacity="0.78" stroke="#b4b4b4" stroke-opacity="0.8" stroke-width="1.5"/>
<path d="M320.2 187.4L321.2 187.4L322.2 187.4L323.2 187.4L324.2 187.4L325.2 187.4L326.2 187.3L327.2 187.3L328.2 187.3L329.2 187.3L330.2 187.3L331.2 187.3L332.2 187.3L333.2 187.3L334.2 187.2L335.2 187.2L336.2 187.2L337.2 187.2L338.2 187.1L339.2 187.1L340.2 187.1L341.2 187.0L342.2 187.0L343.2 186.9L344.2 186.8L345.2 186.7L346.2 186.6L347.2 186.5L348.2 186.4L349.2 186.3L350.2 186.1L351.2 185.9L352.2 185.7L353.2 185.5L354.2 185.3L355.2 185.0L356.2 184.8L357.2 184.4L358.2 184.1L359.2 183.7L360.2 183.3L361.2 182.9L362.2 182.4L363.2 181.9L364.2 181.3L365.2 180.7L366.2 180.1L367.2 179.4L368.2 178.7L369.2 178.0L370.2 177.2L371.2 176.3L372.2 175.5L373.2 174.6L374.2 173.7L375.2 172.8L376.2 171.8L377.2 170.8L378.2 169.8L379.2 168.9L380.2 167.9L381.2 166.9L382.2 165.9L383.2 164.9L384.2 164.0L385.2 163.1L386.2 162.2L387.2 161.3L388.2 160.5L389.2 159.8L390.2 159.1L391.2 158.5L392.2 158.0L393.2 157.5L394.2 157.1L395.2 156.9L396.2 156.6L397.2 156.5L398.2 156.5L399.2 156.6L400.2 157.0L401.2 157.5L402.2 158.2L403.2 159.0L404.2 160.0L405.2 161.2L406.2 162.4L407.2 163.7L408.2 165.1L409.2 166.5L410.2 168.0L411.2 169.5L412.2 170.9L413.2 172.3L414.2 173.7L415.2 175.1L416.2 176.3L417.2 177.5L418.2 178.6L419.2 179.7L420.2 180.6L421.2 181.5L422.2 182.3L423.2 183.0L424.2 183.6L425.2 184.2L426.2 184.7L427.2 185.1L428.2 185.4L429.2 185.8L430.2 186.0L431.2 186.3L432.2 186.5L433.2 186.6L434.2 186.8L435.2 186.9L436.2 187.0L437.2 187.1L438.2 187.1L439.2 187.2L440.2 187.2L441.2 187.2L442.2 187.3L443.2 187.3L444.2 187.3L445.2 187.3L446.2 187.3L447.2 187.4L448.2 187.4L449.2 187.4L450.2 187.4L451.2 187.4L452.2 187.4L453.2 187.4L454.2 187.4L455.2 187.4L456.2 187.4L457.2 187.4L458.2 187.4L459.2 187.4L460.2 187.4L461.2 187.4L462.2 187.4L463.2 187.4L464.2 187.4L465.2 187.4L466.2 187.4L467.2 187.4L468.2 187.4L469.2 187.4L470.2 187.4L471.2 187.4L472.2 187.4L473.2 187.4L474.2 187.4L475.2 187.4L476.2 187.4L477.2 187.4L478.2 187.4L479.2 187.4L480.2 187.5L481.2 187.5L482.2 187.5L483.2 187.5L484.2 187.5L485.2 187.5L486.2 187.5L487.2 187.5L488.2 187.5L489.2 187.5L490.2 187.5L491.2 187.5L492.2 187.5L493.2 187.5L494.2 187.5L495.2 187.5L496.2 187.5L497.2 187.5L498.2 187.5L499.2 187.5L500.2 187.5L501.2 187.5L502.2 187.5L503.2 187.5L504.2 187.5L505.2 187.5L506.2 187.5L507.2 187.5L508.2 187.5L509.2 187.5L510.2 187.5L511.2 187.5L512.2 187.5L513.2 187.5L514.2 187.5L515.2 187.5L516.2 187.5L517.2 187.5L518.2 187.5L519.2 187.5L520.2 187.5L521.2 187.5L522.2 187.5L523.2 187.5L524.2 187.5L525.2 187.5L526.2 187.5L527.2 187.5L528.2 187.5L529.2 187.5L530.2 187.5L531.2 187.5L532.2 187.5L533.2 187.5L534.2 187.5L535.2 187.5L536.2 187.5L537.2 187.5L538.2 187.5L539.2 187.5L539.2 187.5L320.2 187.5Z" fill="url(#gSurf)" fill-opacity="0.9" stroke="#f0a8b6" stroke-width="0.8"/>
<path d="M320.2 187.4L321.2 187.4L322.2 187.4L323.2 187.4L324.2 187.4L325.2 187.4L326.2 187.4L327.2 187.4L328.2 187.4L329.2 187.4L330.2 187.4L331.2 187.4L332.2 187.4L333.2 187.4L334.2 187.4L335.2 187.4L336.2 187.4L337.2 187.4L338.2 187.4L339.2 187.4L340.2 187.4L341.2 187.4L342.2 187.4L343.2 187.4L344.2 187.4L345.2 187.4L346.2 187.4L347.2 187.4L348.2 187.4L349.2 187.4L350.2 187.4L351.2 187.4L352.2 187.4L353.2 187.4L354.2 187.4L355.2 187.4L356.2 187.4L357.2 187.4L358.2 187.4L359.2 187.4L360.2 187.4L361.2 187.4L362.2 187.4L363.2 187.4L364.2 187.3L365.2 187.3L366.2 187.3L367.2 187.3L368.2 187.3L369.2 187.3L370.2 187.3L371.2 187.3L372.2 187.2L373.2 187.2L374.2 187.2L375.2 187.1L376.2 187.1L377.2 187.0L378.2 187.0L379.2 186.9L380.2 186.8L381.2 186.7L382.2 186.6L383.2 186.5L384.2 186.3L385.2 186.1L386.2 185.9L387.2 185.7L388.2 185.5L389.2 185.2L390.2 184.8L391.2 184.4L392.2 184.0L393.2 183.5L394.2 183.0L395.2 182.4L396.2 181.8L397.2 181.1L398.2 180.3L399.2 179.5L400.2 178.6L401.2 177.7L402.2 176.7L403.2 175.6L404.2 174.5L405.2 173.3L406.2 172.1L407.2 170.8L408.2 169.5L409.2 168.2L410.2 166.8L411.2 165.5L412.2 164.1L413.2 162.8L414.2 161.4L415.2 160.1L416.2 158.9L417.2 157.7L418.2 156.6L419.2 155.6L420.2 154.7L421.2 153.9L422.2 153.2L423.2 152.6L424.2 152.2L425.2 151.9L426.2 151.8L427.2 151.8L428.2 152.1L429.2 152.6L430.2 153.3L431.2 154.3L432.2 155.4L433.2 156.7L434.2 158.1L435.2 159.7L436.2 161.3L437.2 163.0L438.2 164.7L439.2 166.5L440.2 168.2L441.2 169.9L442.2 171.6L443.2 173.2L444.2 174.7L445.2 176.1L446.2 177.4L447.2 178.7L448.2 179.8L449.2 180.8L450.2 181.7L451.2 182.5L452.2 183.2L453.2 183.9L454.2 184.4L455.2 184.9L456.2 185.3L457.2 185.7L458.2 186.0L459.2 186.2L460.2 186.4L461.2 186.6L462.2 186.7L463.2 186.9L464.2 187.0L465.2 187.0L466.2 187.1L467.2 187.2L468.2 187.2L469.2 187.2L470.2 187.3L471.2 187.3L472.2 187.3L473.2 187.3L474.2 187.3L475.2 187.3L476.2 187.4L477.2 187.4L478.2 187.4L479.2 187.4L480.2 187.4L481.2 187.4L482.2 187.4L483.2 187.4L484.2 187.4L485.2 187.4L486.2 187.4L487.2 187.4L488.2 187.4L489.2 187.4L490.2 187.4L491.2 187.4L492.2 187.4L493.2 187.4L494.2 187.4L495.2 187.4L496.2 187.4L497.2 187.4L498.2 187.4L499.2 187.4L500.2 187.4L501.2 187.4L502.2 187.4L503.2 187.4L504.2 187.4L505.2 187.4L506.2 187.4L507.2 187.4L508.2 187.4L509.2 187.4L510.2 187.4L511.2 187.4L512.2 187.5L513.2 187.5L514.2 187.5L515.2 187.5L516.2 187.5L517.2 187.5L518.2 187.5L519.2 187.5L520.2 187.5L521.2 187.5L522.2 187.5L523.2 187.5L524.2 187.5L525.2 187.5L526.2 187.5L527.2 187.5L528.2 187.5L529.2 187.5L530.2 187.5L531.2 187.5L532.2 187.5L533.2 187.5L534.2 187.5L535.2 187.5L536.2 187.5L537.2 187.5L538.2 187.5L539.2 187.5L539.2 187.5L320.2 187.5Z" fill="url(#gOr)" fill-opacity="0.82" stroke="#f4a878" stroke-width="0.8"/>
<path d="M320.2 187.5L321.2 187.5L322.2 187.5L323.2 187.5L324.2 187.5L325.2 187.5L326.2 187.5L327.2 187.5L328.2 187.5L329.2 187.5L330.2 187.5L331.2 187.5L332.2 187.5L333.2 187.5L334.2 187.5L335.2 187.5L336.2 187.5L337.2 187.5L338.2 187.5L339.2 187.5L340.2 187.5L341.2 187.5L342.2 187.5L343.2 187.4L344.2 187.4L345.2 187.4L346.2 187.4L347.2 187.4L348.2 187.4L349.2 187.4L350.2 187.4L351.2 187.4L352.2 187.4L353.2 187.4L354.2 187.4L355.2 187.4L356.2 187.4L357.2 187.4L358.2 187.4L359.2 187.4L360.2 187.4L361.2 187.4L362.2 187.4L363.2 187.4L364.2 187.4L365.2 187.4L366.2 187.4L367.2 187.4L368.2 187.4L369.2 187.4L370.2 187.4L371.2 187.4L372.2 187.4L373.2 187.4L374.2 187.4L375.2 187.4L376.2 187.4L377.2 187.4L378.2 187.4L379.2 187.4L380.2 187.4L381.2 187.4L382.2 187.4L383.2 187.4L384.2 187.4L385.2 187.4L386.2 187.4L387.2 187.4L388.2 187.4L389.2 187.4L390.2 187.4L391.2 187.4L392.2 187.4L393.2 187.4L394.2 187.3L395.2 187.3L396.2 187.3L397.2 187.3L398.2 187.3L399.2 187.3L400.2 187.3L401.2 187.3L402.2 187.3L403.2 187.3L404.2 187.3L405.2 187.3L406.2 187.3L407.2 187.3L408.2 187.3L409.2 187.3L410.2 187.2L411.2 187.2L412.2 187.2L413.2 187.2L414.2 187.2L415.2 187.2L416.2 187.2L417.2 187.1L418.2 187.1L419.2 187.1L420.2 187.0L421.2 187.0L422.2 186.9L423.2 186.8L424.2 186.7L425.2 186.6L426.2 186.4L427.2 186.2L428.2 186.0L429.2 185.7L430.2 185.3L431.2 184.8L432.2 184.2L433.2 183.5L434.2 182.7L435.2 181.7L436.2 180.5L437.2 179.1L438.2 177.5L439.2 175.6L440.2 173.5L441.2 171.2L442.2 168.5L443.2 165.6L444.2 162.4L445.2 158.9L446.2 155.2L447.2 151.3L448.2 147.2L449.2 143.0L450.2 138.7L451.2 134.4L452.2 130.1L453.2 126.0L454.2 122.0L455.2 118.4L456.2 115.1L457.2 112.3L458.2 110.0L459.2 108.2L460.2 107.1L461.2 106.5L462.2 106.7L463.2 107.4L464.2 108.8L465.2 110.8L466.2 113.4L467.2 116.4L468.2 119.8L469.2 123.6L470.2 127.6L471.2 131.8L472.2 136.1L473.2 140.4L474.2 144.7L475.2 148.9L476.2 152.9L477.2 156.7L478.2 160.3L479.2 163.7L480.2 166.8L481.2 169.6L482.2 172.1L483.2 174.4L484.2 176.4L485.2 178.2L486.2 179.7L487.2 181.0L488.2 182.1L489.2 183.0L490.2 183.8L491.2 184.5L492.2 185.0L493.2 185.4L494.2 185.8L495.2 186.1L496.2 186.3L497.2 186.5L498.2 186.7L499.2 186.8L500.2 186.9L501.2 186.9L502.2 187.0L503.2 187.0L504.2 187.1L505.2 187.1L506.2 187.1L507.2 187.2L508.2 187.2L509.2 187.2L510.2 187.2L511.2 187.2L512.2 187.2L513.2 187.2L514.2 187.3L515.2 187.3L516.2 187.3L517.2 187.3L518.2 187.3L519.2 187.3L520.2 187.3L521.2 187.3L522.2 187.3L523.2 187.3L524.2 187.3L525.2 187.3L526.2 187.3L527.2 187.3L528.2 187.3L529.2 187.4L530.2 187.4L531.2 187.4L532.2 187.4L533.2 187.4L534.2 187.4L535.2 187.4L536.2 187.4L537.2 187.4L538.2 187.4L539.2 187.4L539.2 187.5L320.2 187.5Z" fill="url(#gBlue)" fill-opacity="0.8" stroke="#6f74e2" stroke-width="1"/>
</g>
<g clip-path="url(#cR2)">
<path d="M320.1 275.8L323.4 275.8L325.1 275.8L327.9 275.8L330.8 274.5L332.8 275.8L335.5 273.9L338.6 274.9L341.5 274.4L343.4 274.4L345.8 275.8L348.6 274.8L352.0 274.2L353.6 272.5L356.8 273.5L359.1 271.9L362.0 272.5L364.1 270.5L367.1 271.4L370.1 269.4L372.6 270.1L375.0 269.6L377.4 268.6L380.1 267.6L382.1 268.5L385.6 266.3L388.0 266.4L390.3 266.1L393.2 263.3L395.5 261.4L398.1 261.2L400.5 260.3L403.5 258.3L406.1 258.9L408.6 257.1L410.6 254.0L414.0 253.2L416.3 253.4L419.1 252.1L421.7 249.8L424.7 247.3L426.4 244.7L429.4 246.2L432.6 243.7L434.9 242.6L437.0 240.6L440.1 240.9L443.0 239.9L444.9 238.1L448.0 236.9L449.8 235.6L453.4 230.9L455.4 227.3L457.7 224.8L461.0 218.1L463.4 213.0L466.3 204.5L468.8 195.5L471.4 189.5L473.6 188.3L476.8 189.0L478.3 192.1L481.8 200.1L484.3 208.8L486.3 215.9L489.6 227.9L491.7 235.1L494.4 241.8L497.4 250.4L499.2 254.3L501.9 260.4L505.0 264.4L506.9 266.6L510.1 268.8L512.9 271.3L515.2 271.8L517.5 272.5L520.8 273.6L523.4 273.4L525.9 273.8L528.3 274.8L531.3 275.1L533.8 274.7L535.6 274.8L538.4 274.6" fill="none" stroke="#2f9eee" stroke-width="1.2"/>
<path d="M320.2 276.2L321.2 276.2L322.2 276.2L323.2 276.2L324.2 276.2L325.2 276.2L326.2 276.2L327.2 276.2L328.2 276.2L329.2 276.2L330.2 276.1L331.2 276.1L332.2 276.1L333.2 276.1L334.2 276.1L335.2 276.1L336.2 276.1L337.2 276.1L338.2 276.1L339.2 276.1L340.2 276.1L341.2 276.1L342.2 276.1L343.2 276.1L344.2 276.1L345.2 276.1L346.2 276.0L347.2 276.0L348.2 276.0L349.2 276.0L350.2 276.0L351.2 276.0L352.2 275.9L353.2 275.9L354.2 275.9L355.2 275.8L356.2 275.8L357.2 275.7L358.2 275.6L359.2 275.5L360.2 275.4L361.2 275.4L362.2 275.3L363.2 275.2L364.2 275.1L365.2 274.9L366.2 274.8L367.2 274.7L368.2 274.6L369.2 274.5L370.2 274.4L371.2 274.2L372.2 274.1L373.2 274.0L374.2 273.9L375.2 273.7L376.2 273.6L377.2 273.5L378.2 273.4L379.2 273.2L380.2 273.1L381.2 272.9L382.2 272.8L383.2 272.6L384.2 272.4L385.2 272.2L386.2 272.0L387.2 271.7L388.2 271.5L389.2 271.2L390.2 270.8L391.2 270.3L392.2 269.6L393.2 268.7L394.2 267.9L395.2 267.1L396.2 266.4L397.2 265.8L398.2 265.2L399.2 264.7L400.2 264.2L401.2 263.7L402.2 263.3L403.2 262.8L404.2 262.4L405.2 261.9L406.2 261.4L407.2 260.9L408.2 260.3L409.2 259.8L410.2 259.2L411.2 258.7L412.2 258.1L413.2 257.5L414.2 256.9L415.2 256.3L416.2 255.6L417.2 254.9L418.2 254.2L419.2 253.4L420.2 252.6L421.2 251.7L422.2 250.8L423.2 250.0L424.2 249.1L425.2 248.4L426.2 247.7L427.2 247.0L428.2 246.5L429.2 245.9L430.2 245.4L431.2 244.9L432.2 244.4L433.2 244.0L434.2 243.5L435.2 243.1L436.2 242.6L437.2 242.2L438.2 241.8L439.2 241.5L440.2 241.1L441.2 240.8L442.2 240.4L443.2 240.0L444.2 239.6L445.2 239.1L446.2 238.5L447.2 237.8L448.2 237.0L449.2 236.1L450.2 235.1L451.2 234.1L452.2 233.0L453.2 231.8L454.2 230.4L455.2 229.0L456.2 227.4L457.2 225.8L458.2 224.0L459.2 222.3L460.2 220.3L461.2 218.2L462.2 216.0L463.2 213.6L464.2 211.1L465.2 208.4L466.2 205.1L467.2 201.4L468.2 197.8L469.2 194.7L470.2 192.6L471.2 191.1L472.2 189.8L473.2 188.7L474.2 188.0L475.2 187.8L476.2 188.4L477.2 189.8L478.2 191.5L479.2 193.5L480.2 195.6L481.2 198.3L482.2 201.7L483.2 205.3L484.2 209.0L485.2 212.6L486.2 216.0L487.2 219.5L488.2 223.0L489.2 226.5L490.2 229.8L491.2 232.9L492.2 235.9L493.2 238.9L494.2 241.8L495.2 244.6L496.2 247.3L497.2 249.8L498.2 252.1L499.2 254.3L500.2 256.5L501.2 258.6L502.2 260.6L503.2 262.5L504.2 264.1L505.2 265.5L506.2 266.5L507.2 267.3L508.2 268.1L509.2 268.9L510.2 269.5L511.2 270.1L512.2 270.7L513.2 271.1L514.2 271.5L515.2 271.9L516.2 272.2L517.2 272.4L518.2 272.7L519.2 272.9L520.2 273.2L521.2 273.4L522.2 273.6L523.2 273.7L524.2 273.9L525.2 274.1L526.2 274.2L527.2 274.4L528.2 274.5L529.2 274.7L530.2 274.8L531.2 274.9L532.2 275.1L533.2 275.2L534.2 275.3L535.2 275.5L536.2 275.7L537.2 275.8L538.2 276.0L539.2 276.0L539.2 276.3L320.2 276.3Z" fill="url(#gTh)" fill-opacity="0.78" stroke="#b4b4b4" stroke-opacity="0.8" stroke-width="1.5"/>
<path d="M320.2 276.3L321.2 276.3L322.2 276.3L323.2 276.3L324.2 276.3L325.2 276.3L326.2 276.3L327.2 276.3L328.2 276.3L329.2 276.3L330.2 276.3L331.2 276.3L332.2 276.3L333.2 276.3L334.2 276.3L335.2 276.3L336.2 276.3L337.2 276.3L338.2 276.3L339.2 276.3L340.2 276.3L341.2 276.3L342.2 276.3L343.2 276.3L344.2 276.3L345.2 276.3L346.2 276.3L347.2 276.3L348.2 276.3L349.2 276.3L350.2 276.3L351.2 276.3L352.2 276.3L353.2 276.3L354.2 276.3L355.2 276.3L356.2 276.3L357.2 276.3L358.2 276.3L359.2 276.3L360.2 276.3L361.2 276.3L362.2 276.3L363.2 276.3L364.2 276.3L365.2 276.3L366.2 276.3L367.2 276.3L368.2 276.3L369.2 276.2L370.2 276.2L371.2 276.2L372.2 276.2L373.2 276.2L374.2 276.2L375.2 276.2L376.2 276.2L377.2 276.1L378.2 276.1L379.2 276.1L380.2 276.0L381.2 276.0L382.2 275.9L383.2 275.9L384.2 275.8L385.2 275.7L386.2 275.6L387.2 275.4L388.2 275.3L389.2 275.1L390.2 274.9L391.2 274.6L392.2 274.4L393.2 274.1L394.2 273.7L395.2 273.4L396.2 272.9L397.2 272.5L398.2 272.0L399.2 271.4L400.2 270.8L401.2 270.2L402.2 269.5L403.2 268.8L404.2 268.0L405.2 267.2L406.2 266.4L407.2 265.5L408.2 264.6L409.2 263.8L410.2 262.9L411.2 262.0L412.2 261.2L413.2 260.3L414.2 259.6L415.2 258.8L416.2 258.2L417.2 257.6L418.2 257.0L419.2 256.6L420.2 256.3L421.2 256.0L422.2 255.9L423.2 255.9L424.2 256.0L425.2 256.2L426.2 256.7L427.2 257.3L428.2 258.0L429.2 258.8L430.2 259.7L431.2 260.7L432.2 261.8L433.2 262.8L434.2 263.9L435.2 265.0L436.2 266.1L437.2 267.1L438.2 268.1L439.2 269.1L440.2 270.0L441.2 270.8L442.2 271.5L443.2 272.2L444.2 272.8L445.2 273.3L446.2 273.8L447.2 274.2L448.2 274.6L449.2 274.9L450.2 275.1L451.2 275.3L452.2 275.5L453.2 275.7L454.2 275.8L455.2 275.9L456.2 276.0L457.2 276.0L458.2 276.1L459.2 276.1L460.2 276.2L461.2 276.2L462.2 276.2L463.2 276.2L464.2 276.2L465.2 276.2L466.2 276.3L467.2 276.3L468.2 276.3L469.2 276.3L470.2 276.3L471.2 276.3L472.2 276.3L473.2 276.3L474.2 276.3L475.2 276.3L476.2 276.3L477.2 276.3L478.2 276.3L479.2 276.3L480.2 276.3L481.2 276.3L482.2 276.3L483.2 276.3L484.2 276.3L485.2 276.3L486.2 276.3L487.2 276.3L488.2 276.3L489.2 276.3L490.2 276.3L491.2 276.3L492.2 276.3L493.2 276.3L494.2 276.3L495.2 276.3L496.2 276.3L497.2 276.3L498.2 276.3L499.2 276.3L500.2 276.3L501.2 276.3L502.2 276.3L503.2 276.3L504.2 276.3L505.2 276.3L506.2 276.3L507.2 276.3L508.2 276.3L509.2 276.3L510.2 276.3L511.2 276.3L512.2 276.3L513.2 276.3L514.2 276.3L515.2 276.3L516.2 276.3L517.2 276.3L518.2 276.3L519.2 276.3L520.2 276.3L521.2 276.3L522.2 276.3L523.2 276.3L524.2 276.3L525.2 276.3L526.2 276.3L527.2 276.3L528.2 276.3L529.2 276.3L530.2 276.3L531.2 276.3L532.2 276.3L533.2 276.3L534.2 276.3L535.2 276.3L536.2 276.3L537.2 276.3L538.2 276.3L539.2 276.3L539.2 276.3L320.2 276.3Z" fill="url(#gSurf)" fill-opacity="0.9" stroke="#f0a8b6" stroke-width="0.8"/>
<path d="M320.2 276.3L321.2 276.3L322.2 276.3L323.2 276.3L324.2 276.3L325.2 276.3L326.2 276.3L327.2 276.3L328.2 276.3L329.2 276.3L330.2 276.3L331.2 276.3L332.2 276.3L333.2 276.3L334.2 276.3L335.2 276.3L336.2 276.3L337.2 276.3L338.2 276.3L339.2 276.3L340.2 276.3L341.2 276.3L342.2 276.3L343.2 276.3L344.2 276.3L345.2 276.3L346.2 276.3L347.2 276.3L348.2 276.3L349.2 276.3L350.2 276.3L351.2 276.3L352.2 276.3L353.2 276.3L354.2 276.3L355.2 276.3L356.2 276.3L357.2 276.3L358.2 276.3L359.2 276.3L360.2 276.3L361.2 276.3L362.2 276.3L363.2 276.3L364.2 276.3L365.2 276.3L366.2 276.3L367.2 276.3L368.2 276.3L369.2 276.3L370.2 276.3L371.2 276.3L372.2 276.3L373.2 276.3L374.2 276.3L375.2 276.3L376.2 276.3L377.2 276.3L378.2 276.3L379.2 276.3L380.2 276.3L381.2 276.3L382.2 276.3L383.2 276.3L384.2 276.3L385.2 276.3L386.2 276.3L387.2 276.3L388.2 276.3L389.2 276.3L390.2 276.3L391.2 276.3L392.2 276.2L393.2 276.2L394.2 276.2L395.2 276.2L396.2 276.2L397.2 276.2L398.2 276.2L399.2 276.2L400.2 276.2L401.2 276.1L402.2 276.1L403.2 276.1L404.2 276.0L405.2 276.0L406.2 276.0L407.2 275.9L408.2 275.8L409.2 275.7L410.2 275.6L411.2 275.5L412.2 275.4L413.2 275.3L414.2 275.1L415.2 274.9L416.2 274.7L417.2 274.4L418.2 274.1L419.2 273.8L420.2 273.5L421.2 273.1L422.2 272.6L423.2 272.2L424.2 271.6L425.2 271.1L426.2 270.5L427.2 269.8L428.2 269.1L429.2 268.4L430.2 267.7L431.2 266.9L432.2 266.0L433.2 265.2L434.2 264.3L435.2 263.4L436.2 262.5L437.2 261.6L438.2 260.8L439.2 259.9L440.2 259.1L441.2 258.3L442.2 257.6L443.2 256.9L444.2 256.3L445.2 255.7L446.2 255.3L447.2 254.9L448.2 254.6L449.2 254.4L450.2 254.4L451.2 254.4L452.2 254.7L453.2 255.2L454.2 255.9L455.2 256.8L456.2 257.8L457.2 259.0L458.2 260.2L459.2 261.5L460.2 262.9L461.2 264.2L462.2 265.5L463.2 266.8L464.2 268.0L465.2 269.1L466.2 270.2L467.2 271.1L468.2 271.9L469.2 272.6L470.2 273.3L471.2 273.8L472.2 274.3L473.2 274.7L474.2 275.0L475.2 275.3L476.2 275.5L477.2 275.7L478.2 275.8L479.2 275.9L480.2 276.0L481.2 276.1L482.2 276.1L483.2 276.1L484.2 276.2L485.2 276.2L486.2 276.2L487.2 276.2L488.2 276.2L489.2 276.3L490.2 276.3L491.2 276.3L492.2 276.3L493.2 276.3L494.2 276.3L495.2 276.3L496.2 276.3L497.2 276.3L498.2 276.3L499.2 276.3L500.2 276.3L501.2 276.3L502.2 276.3L503.2 276.3L504.2 276.3L505.2 276.3L506.2 276.3L507.2 276.3L508.2 276.3L509.2 276.3L510.2 276.3L511.2 276.3L512.2 276.3L513.2 276.3L514.2 276.3L515.2 276.3L516.2 276.3L517.2 276.3L518.2 276.3L519.2 276.3L520.2 276.3L521.2 276.3L522.2 276.3L523.2 276.3L524.2 276.3L525.2 276.3L526.2 276.3L527.2 276.3L528.2 276.3L529.2 276.3L530.2 276.3L531.2 276.3L532.2 276.3L533.2 276.3L534.2 276.3L535.2 276.3L536.2 276.3L537.2 276.3L538.2 276.3L539.2 276.3L539.2 276.3L320.2 276.3Z" fill="url(#gOr)" fill-opacity="0.82" stroke="#f4a878" stroke-width="0.8"/>
<path d="M320.2 276.3L321.2 276.3L322.2 276.3L323.2 276.3L324.2 276.3L325.2 276.3L326.2 276.3L327.2 276.3L328.2 276.3L329.2 276.3L330.2 276.3L331.2 276.3L332.2 276.3L333.2 276.3L334.2 276.3L335.2 276.3L336.2 276.3L337.2 276.3L338.2 276.3L339.2 276.3L340.2 276.3L341.2 276.3L342.2 276.3L343.2 276.3L344.2 276.3L345.2 276.3L346.2 276.3L347.2 276.3L348.2 276.3L349.2 276.3L350.2 276.3L351.2 276.3L352.2 276.3L353.2 276.3L354.2 276.3L355.2 276.3L356.2 276.3L357.2 276.3L358.2 276.3L359.2 276.3L360.2 276.3L361.2 276.3L362.2 276.3L363.2 276.3L364.2 276.3L365.2 276.3L366.2 276.3L367.2 276.3L368.2 276.3L369.2 276.3L370.2 276.3L371.2 276.3L372.2 276.3L373.2 276.3L374.2 276.3L375.2 276.3L376.2 276.3L377.2 276.3L378.2 276.3L379.2 276.3L380.2 276.3L381.2 276.3L382.2 276.3L383.2 276.3L384.2 276.3L385.2 276.3L386.2 276.3L387.2 276.3L388.2 276.2L389.2 276.2L390.2 276.2L391.2 276.2L392.2 276.2L393.2 276.2L394.2 276.2L395.2 276.2L396.2 276.2L397.2 276.2L398.2 276.2L399.2 276.2L400.2 276.2L401.2 276.2L402.2 276.2L403.2 276.2L404.2 276.2L405.2 276.2L406.2 276.2L407.2 276.2L408.2 276.2L409.2 276.2L410.2 276.2L411.2 276.2L412.2 276.2L413.2 276.2L414.2 276.1L415.2 276.1L416.2 276.1L417.2 276.1L418.2 276.1L419.2 276.1L420.2 276.1L421.2 276.1L422.2 276.1L423.2 276.1L424.2 276.1L425.2 276.0L426.2 276.0L427.2 276.0L428.2 276.0L429.2 276.0L430.2 275.9L431.2 275.9L432.2 275.8L433.2 275.8L434.2 275.7L435.2 275.6L436.2 275.5L437.2 275.3L438.2 275.1L439.2 274.9L440.2 274.6L441.2 274.3L442.2 273.9L443.2 273.4L444.2 272.8L445.2 272.1L446.2 271.3L447.2 270.3L448.2 269.2L449.2 267.9L450.2 266.4L451.2 264.8L452.2 262.9L453.2 260.8L454.2 258.4L455.2 255.8L456.2 253.1L457.2 250.0L458.2 246.8L459.2 243.4L460.2 239.9L461.2 236.2L462.2 232.4L463.2 228.6L464.2 224.8L465.2 221.0L466.2 217.4L467.2 214.0L468.2 210.7L469.2 207.8L470.2 205.3L471.2 203.1L472.2 201.4L473.2 200.2L474.2 199.5L475.2 199.4L476.2 199.7L477.2 200.6L478.2 202.0L479.2 203.9L480.2 206.3L481.2 209.0L482.2 212.0L483.2 215.3L484.2 218.8L485.2 222.5L486.2 226.3L487.2 230.1L488.2 233.9L489.2 237.7L490.2 241.3L491.2 244.8L492.2 248.1L493.2 251.3L494.2 254.2L495.2 256.9L496.2 259.4L497.2 261.6L498.2 263.6L499.2 265.4L500.2 267.0L501.2 268.4L502.2 269.7L503.2 270.7L504.2 271.6L505.2 272.4L506.2 273.0L507.2 273.6L508.2 274.1L509.2 274.4L510.2 274.7L511.2 275.0L512.2 275.2L513.2 275.4L514.2 275.5L515.2 275.6L516.2 275.7L517.2 275.8L518.2 275.8L519.2 275.9L520.2 275.9L521.2 276.0L522.2 276.0L523.2 276.0L524.2 276.0L525.2 276.0L526.2 276.1L527.2 276.1L528.2 276.1L529.2 276.1L530.2 276.1L531.2 276.1L532.2 276.1L533.2 276.1L534.2 276.1L535.2 276.1L536.2 276.2L537.2 276.2L538.2 276.2L539.2 276.2L539.2 276.3L320.2 276.3Z" fill="url(#gBlue)" fill-opacity="0.8" stroke="#6f74e2" stroke-width="1"/>
</g>
<g clip-path="url(#cR3)">
<path d="M319.6 364.7L322.4 364.7L325.8 364.2L328.3 364.7L330.9 363.0L332.8 364.7L335.8 363.5L337.8 363.6L340.5 364.6L343.4 363.1L346.8 362.9L349.0 363.6L351.8 364.2L353.5 363.9L356.5 363.4L358.7 361.4L361.5 364.4L363.9 361.7L367.5 360.6L369.4 361.5L372.2 360.3L375.0 361.3L377.9 361.4L380.5 358.7L382.7 356.9L385.2 356.1L388.3 354.8L390.3 354.7L392.8 353.5L395.9 352.0L397.9 350.8L400.6 347.5L403.3 344.0L406.0 339.1L408.4 337.5L411.1 334.3L413.7 333.5L415.9 333.7L419.4 331.0L421.1 331.9L424.2 330.3L426.9 329.7L429.3 329.0L431.7 327.8L434.1 329.0L437.0 330.0L439.6 329.6L442.4 330.4L444.7 328.4L447.9 328.1L450.2 325.6L452.2 325.2L455.3 319.7L458.6 313.6L460.0 309.5L463.3 300.4L466.4 292.0L468.2 288.0L471.1 280.9L473.4 282.7L476.0 284.6L478.9 291.8L481.5 299.9L483.8 308.7L486.6 319.6L489.2 328.8L492.1 338.1L493.9 342.6L496.5 348.4L499.3 353.1L501.9 356.2L505.2 358.9L507.3 359.6L510.4 361.1L512.5 361.3L514.9 361.8L518.0 362.1L519.9 361.9L523.6 362.7L526.0 363.3L528.0 363.6L530.6 363.9L533.8 364.0L536.3 364.6L538.8 363.9" fill="none" stroke="#f04848" stroke-width="1.2"/>
<path d="M320.2 365.0L321.2 365.0L322.2 365.0L323.2 365.0L324.2 364.9L325.2 364.9L326.2 364.9L327.2 364.9L328.2 364.9L329.2 364.9L330.2 364.8L331.2 364.8L332.2 364.8L333.2 364.8L334.2 364.8L335.2 364.8L336.2 364.8L337.2 364.7L338.2 364.7L339.2 364.7L340.2 364.7L341.2 364.7L342.2 364.7L343.2 364.6L344.2 364.6L345.2 364.6L346.2 364.6L347.2 364.6L348.2 364.5L349.2 364.5L350.2 364.5L351.2 364.5L352.2 364.5L353.2 364.4L354.2 364.4L355.2 364.4L356.2 364.4L357.2 364.3L358.2 364.3L359.2 364.3L360.2 364.3L361.2 364.2L362.2 364.2L363.2 364.2L364.2 364.1L365.2 364.1L366.2 364.1L367.2 364.0L368.2 364.0L369.2 363.9L370.2 363.9L371.2 363.8L372.2 363.8L373.2 363.7L374.2 363.6L375.2 363.6L376.2 363.4L377.2 363.2L378.2 362.9L379.2 362.5L380.2 362.1L381.2 361.6L382.2 361.1L383.2 360.6L384.2 360.1L385.2 359.5L386.2 359.0L387.2 358.5L388.2 358.0L389.2 357.5L390.2 357.0L391.2 356.6L392.2 356.2L393.2 355.8L394.2 355.4L395.2 355.0L396.2 354.5L397.2 353.9L398.2 353.3L399.2 352.4L400.2 351.2L401.2 350.0L402.2 348.7L403.2 347.6L404.2 346.6L405.2 345.8L406.2 345.0L407.2 344.2L408.2 343.5L409.2 342.8L410.2 342.2L411.2 341.5L412.2 340.9L413.2 340.3L414.2 339.7L415.2 339.1L416.2 338.5L417.2 337.9L418.2 337.4L419.2 336.9L420.2 336.4L421.2 336.0L422.2 335.6L423.2 335.3L424.2 335.0L425.2 334.7L426.2 334.5L427.2 334.3L428.2 334.1L429.2 333.9L430.2 333.7L431.2 333.6L432.2 333.5L433.2 333.4L434.2 333.4L435.2 333.3L436.2 333.3L437.2 333.3L438.2 333.2L439.2 333.2L440.2 333.1L441.2 333.0L442.2 332.9L443.2 332.7L444.2 332.4L445.2 332.0L446.2 331.5L447.2 330.9L448.2 330.3L449.2 329.4L450.2 328.4L451.2 327.1L452.2 325.7L453.2 324.2L454.2 322.6L455.2 321.0L456.2 319.1L457.2 316.9L458.2 314.5L459.2 312.0L460.2 309.5L461.2 307.0L462.2 304.3L463.2 301.4L464.2 298.6L465.2 295.9L466.2 293.5L467.2 291.4L468.2 289.1L469.2 287.0L470.2 285.1L471.2 283.9L472.2 283.5L473.2 283.8L474.2 284.5L475.2 285.5L476.2 286.8L477.2 288.2L478.2 289.8L479.2 292.3L480.2 295.5L481.2 299.2L482.2 303.2L483.2 306.9L484.2 310.5L485.2 314.2L486.2 318.0L487.2 321.8L488.2 325.5L489.2 328.8L490.2 332.0L491.2 335.2L492.2 338.4L493.2 341.4L494.2 344.2L495.2 346.7L496.2 348.7L497.2 350.4L498.2 351.9L499.2 353.4L500.2 354.7L501.2 356.0L502.2 357.1L503.2 358.1L504.2 358.9L505.2 359.5L506.2 360.0L507.2 360.3L508.2 360.6L509.2 360.9L510.2 361.2L511.2 361.4L512.2 361.6L513.2 361.8L514.2 362.0L515.2 362.1L516.2 362.3L517.2 362.4L518.2 362.5L519.2 362.7L520.2 362.8L521.2 363.0L522.2 363.1L523.2 363.2L524.2 363.3L525.2 363.5L526.2 363.6L527.2 363.7L528.2 363.8L529.2 363.9L530.2 364.0L531.2 364.1L532.2 364.2L533.2 364.3L534.2 364.4L535.2 364.5L536.2 364.6L537.2 364.7L538.2 364.8L539.2 364.8L539.2 365.2L320.2 365.2Z" fill="url(#gTh)" fill-opacity="0.78" stroke="#b4b4b4" stroke-opacity="0.8" stroke-width="1.5"/>
<path d="M320.2 365.2L321.2 365.2L322.2 365.2L323.2 365.2L324.2 365.2L325.2 365.2L326.2 365.2L327.2 365.2L328.2 365.2L329.2 365.2L330.2 365.2L331.2 365.2L332.2 365.2L333.2 365.2L334.2 365.1L335.2 365.1L336.2 365.1L337.2 365.1L338.2 365.1L339.2 365.1L340.2 365.1L341.2 365.1L342.2 365.1L343.2 365.1L344.2 365.1L345.2 365.1L346.2 365.1L347.2 365.1L348.2 365.1L349.2 365.1L350.2 365.1L351.2 365.1L352.2 365.1L353.2 365.1L354.2 365.1L355.2 365.1L356.2 365.1L357.2 365.1L358.2 365.1L359.2 365.1L360.2 365.0L361.2 365.0L362.2 365.0L363.2 365.0L364.2 364.9L365.2 364.9L366.2 364.9L367.2 364.8L368.2 364.8L369.2 364.7L370.2 364.6L371.2 364.5L372.2 364.4L373.2 364.3L374.2 364.2L375.2 364.1L376.2 363.9L377.2 363.7L378.2 363.5L379.2 363.3L380.2 363.0L381.2 362.7L382.2 362.4L383.2 362.0L384.2 361.6L385.2 361.2L386.2 360.8L387.2 360.3L388.2 359.8L389.2 359.2L390.2 358.6L391.2 358.0L392.2 357.4L393.2 356.7L394.2 356.0L395.2 355.3L396.2 354.6L397.2 353.8L398.2 353.1L399.2 352.3L400.2 351.6L401.2 350.9L402.2 350.2L403.2 349.5L404.2 348.9L405.2 348.3L406.2 347.8L407.2 347.3L408.2 346.9L409.2 346.5L410.2 346.2L411.2 346.0L412.2 345.9L413.2 345.8L414.2 345.8L415.2 345.9L416.2 346.1L417.2 346.4L418.2 346.7L419.2 347.1L420.2 347.6L421.2 348.1L422.2 348.7L423.2 349.3L424.2 349.9L425.2 350.6L426.2 351.3L427.2 352.0L428.2 352.8L429.2 353.5L430.2 354.3L431.2 355.0L432.2 355.7L433.2 356.4L434.2 357.1L435.2 357.8L436.2 358.4L437.2 359.0L438.2 359.5L439.2 360.1L440.2 360.6L441.2 361.0L442.2 361.5L443.2 361.9L444.2 362.2L445.2 362.6L446.2 362.9L447.2 363.2L448.2 363.4L449.2 363.6L450.2 363.8L451.2 364.0L452.2 364.1L453.2 364.3L454.2 364.4L455.2 364.5L456.2 364.6L457.2 364.7L458.2 364.7L459.2 364.8L460.2 364.9L461.2 364.9L462.2 364.9L463.2 365.0L464.2 365.0L465.2 365.0L466.2 365.0L467.2 365.0L468.2 365.1L469.2 365.1L470.2 365.1L471.2 365.1L472.2 365.1L473.2 365.1L474.2 365.1L475.2 365.1L476.2 365.1L477.2 365.1L478.2 365.1L479.2 365.1L480.2 365.1L481.2 365.1L482.2 365.1L483.2 365.1L484.2 365.1L485.2 365.1L486.2 365.1L487.2 365.1L488.2 365.1L489.2 365.1L490.2 365.1L491.2 365.1L492.2 365.1L493.2 365.2L494.2 365.2L495.2 365.2L496.2 365.2L497.2 365.2L498.2 365.2L499.2 365.2L500.2 365.2L501.2 365.2L502.2 365.2L503.2 365.2L504.2 365.2L505.2 365.2L506.2 365.2L507.2 365.2L508.2 365.2L509.2 365.2L510.2 365.2L511.2 365.2L512.2 365.2L513.2 365.2L514.2 365.2L515.2 365.2L516.2 365.2L517.2 365.2L518.2 365.2L519.2 365.2L520.2 365.2L521.2 365.2L522.2 365.2L523.2 365.2L524.2 365.2L525.2 365.2L526.2 365.2L527.2 365.2L528.2 365.2L529.2 365.2L530.2 365.2L531.2 365.2L532.2 365.2L533.2 365.2L534.2 365.2L535.2 365.2L536.2 365.2L537.2 365.2L538.2 365.2L539.2 365.2L539.2 365.2L320.2 365.2Z" fill="url(#gSurf)" fill-opacity="0.9" stroke="#f0a8b6" stroke-width="0.8"/>
<path d="M320.2 365.2L321.2 365.2L322.2 365.2L323.2 365.2L324.2 365.2L325.2 365.2L326.2 365.2L327.2 365.2L328.2 365.2L329.2 365.2L330.2 365.2L331.2 365.2L332.2 365.2L333.2 365.2L334.2 365.2L335.2 365.2L336.2 365.2L337.2 365.2L338.2 365.2L339.2 365.2L340.2 365.2L341.2 365.2L342.2 365.2L343.2 365.2L344.2 365.2L345.2 365.2L346.2 365.2L347.2 365.2L348.2 365.2L349.2 365.2L350.2 365.2L351.2 365.2L352.2 365.2L353.2 365.2L354.2 365.2L355.2 365.2L356.2 365.2L357.2 365.2L358.2 365.2L359.2 365.2L360.2 365.2L361.2 365.2L362.2 365.2L363.2 365.2L364.2 365.2L365.2 365.2L366.2 365.2L367.2 365.2L368.2 365.2L369.2 365.2L370.2 365.2L371.2 365.2L372.2 365.2L373.2 365.2L374.2 365.2L375.2 365.2L376.2 365.2L377.2 365.2L378.2 365.2L379.2 365.2L380.2 365.1L381.2 365.1L382.2 365.1L383.2 365.1L384.2 365.1L385.2 365.1L386.2 365.1L387.2 365.1L388.2 365.1L389.2 365.1L390.2 365.1L391.2 365.1L392.2 365.1L393.2 365.1L394.2 365.1L395.2 365.1L396.2 365.1L397.2 365.1L398.2 365.1L399.2 365.0L400.2 365.0L401.2 365.0L402.2 364.9L403.2 364.9L404.2 364.8L405.2 364.8L406.2 364.7L407.2 364.5L408.2 364.4L409.2 364.2L410.2 364.0L411.2 363.8L412.2 363.5L413.2 363.2L414.2 362.8L415.2 362.4L416.2 361.9L417.2 361.4L418.2 360.7L419.2 360.1L420.2 359.3L421.2 358.5L422.2 357.7L423.2 356.7L424.2 355.8L425.2 354.8L426.2 353.8L427.2 352.8L428.2 351.8L429.2 350.8L430.2 349.8L431.2 349.0L432.2 348.2L433.2 347.5L434.2 346.9L435.2 346.4L436.2 346.0L437.2 345.8L438.2 345.8L439.2 346.0L440.2 346.5L441.2 347.3L442.2 348.3L443.2 349.5L444.2 350.8L445.2 352.3L446.2 353.7L447.2 355.1L448.2 356.5L449.2 357.8L450.2 359.0L451.2 360.1L452.2 361.0L453.2 361.9L454.2 362.6L455.2 363.1L456.2 363.6L457.2 364.0L458.2 364.2L459.2 364.5L460.2 364.6L461.2 364.8L462.2 364.9L463.2 364.9L464.2 365.0L465.2 365.0L466.2 365.1L467.2 365.1L468.2 365.1L469.2 365.1L470.2 365.1L471.2 365.1L472.2 365.1L473.2 365.1L474.2 365.1L475.2 365.1L476.2 365.1L477.2 365.1L478.2 365.1L479.2 365.2L480.2 365.2L481.2 365.2L482.2 365.2L483.2 365.2L484.2 365.2L485.2 365.2L486.2 365.2L487.2 365.2L488.2 365.2L489.2 365.2L490.2 365.2L491.2 365.2L492.2 365.2L493.2 365.2L494.2 365.2L495.2 365.2L496.2 365.2L497.2 365.2L498.2 365.2L499.2 365.2L500.2 365.2L501.2 365.2L502.2 365.2L503.2 365.2L504.2 365.2L505.2 365.2L506.2 365.2L507.2 365.2L508.2 365.2L509.2 365.2L510.2 365.2L511.2 365.2L512.2 365.2L513.2 365.2L514.2 365.2L515.2 365.2L516.2 365.2L517.2 365.2L518.2 365.2L519.2 365.2L520.2 365.2L521.2 365.2L522.2 365.2L523.2 365.2L524.2 365.2L525.2 365.2L526.2 365.2L527.2 365.2L528.2 365.2L529.2 365.2L530.2 365.2L531.2 365.2L532.2 365.2L533.2 365.2L534.2 365.2L535.2 365.2L536.2 365.2L537.2 365.2L538.2 365.2L539.2 365.2L539.2 365.2L320.2 365.2Z" fill="url(#gOr)" fill-opacity="0.82" stroke="#f4a878" stroke-width="0.8"/>
<path d="M320.2 365.2L321.2 365.2L322.2 365.2L323.2 365.2L324.2 365.2L325.2 365.2L326.2 365.2L327.2 365.2L328.2 365.2L329.2 365.2L330.2 365.2L331.2 365.2L332.2 365.2L333.2 365.2L334.2 365.2L335.2 365.2L336.2 365.2L337.2 365.2L338.2 365.2L339.2 365.1L340.2 365.1L341.2 365.1L342.2 365.1L343.2 365.1L344.2 365.1L345.2 365.1L346.2 365.1L347.2 365.1L348.2 365.1L349.2 365.1L350.2 365.1L351.2 365.1L352.2 365.1L353.2 365.1L354.2 365.1L355.2 365.1L356.2 365.1L357.2 365.1L358.2 365.1L359.2 365.1L360.2 365.1L361.2 365.1L362.2 365.1L363.2 365.1L364.2 365.1L365.2 365.1L366.2 365.1L367.2 365.1L368.2 365.1L369.2 365.1L370.2 365.1L371.2 365.1L372.2 365.1L373.2 365.1L374.2 365.1L375.2 365.1L376.2 365.1L377.2 365.1L378.2 365.1L379.2 365.1L380.2 365.1L381.2 365.1L382.2 365.1L383.2 365.1L384.2 365.1L385.2 365.1L386.2 365.1L387.2 365.1L388.2 365.1L389.2 365.1L390.2 365.1L391.2 365.1L392.2 365.1L393.2 365.1L394.2 365.1L395.2 365.1L396.2 365.1L397.2 365.0L398.2 365.0L399.2 365.0L400.2 365.0L401.2 365.0L402.2 365.0L403.2 365.0L404.2 365.0L405.2 365.0L406.2 365.0L407.2 365.0L408.2 365.0L409.2 365.0L410.2 365.0L411.2 365.0L412.2 365.0L413.2 365.0L414.2 364.9L415.2 364.9L416.2 364.9L417.2 364.9L418.2 364.9L419.2 364.9L420.2 364.9L421.2 364.9L422.2 364.8L423.2 364.8L424.2 364.8L425.2 364.7L426.2 364.7L427.2 364.6L428.2 364.6L429.2 364.5L430.2 364.4L431.2 364.3L432.2 364.1L433.2 364.0L434.2 363.7L435.2 363.5L436.2 363.2L437.2 362.8L438.2 362.4L439.2 361.9L440.2 361.3L441.2 360.6L442.2 359.8L443.2 358.8L444.2 357.8L445.2 356.5L446.2 355.2L447.2 353.6L448.2 351.9L449.2 350.0L450.2 347.9L451.2 345.6L452.2 343.1L453.2 340.5L454.2 337.6L455.2 334.6L456.2 331.5L457.2 328.2L458.2 324.8L459.2 321.4L460.2 317.9L461.2 314.5L462.2 311.1L463.2 307.8L464.2 304.6L465.2 301.6L466.2 298.8L467.2 296.3L468.2 294.2L469.2 292.4L470.2 290.9L471.2 289.9L472.2 289.3L473.2 289.2L474.2 289.5L475.2 290.3L476.2 291.5L477.2 293.0L478.2 295.0L479.2 297.3L480.2 299.9L481.2 302.8L482.2 305.8L483.2 309.1L484.2 312.4L485.2 315.9L486.2 319.3L487.2 322.8L488.2 326.2L489.2 329.5L490.2 332.7L491.2 335.8L492.2 338.8L493.2 341.5L494.2 344.1L495.2 346.5L496.2 348.7L497.2 350.8L498.2 352.6L499.2 354.3L500.2 355.7L501.2 357.0L502.2 358.2L503.2 359.2L504.2 360.1L505.2 360.9L506.2 361.5L507.2 362.1L508.2 362.6L509.2 363.0L510.2 363.3L511.2 363.6L512.2 363.8L513.2 364.0L514.2 364.2L515.2 364.3L516.2 364.4L517.2 364.5L518.2 364.6L519.2 364.7L520.2 364.7L521.2 364.8L522.2 364.8L523.2 364.8L524.2 364.8L525.2 364.9L526.2 364.9L527.2 364.9L528.2 364.9L529.2 364.9L530.2 364.9L531.2 364.9L532.2 365.0L533.2 365.0L534.2 365.0L535.2 365.0L536.2 365.0L537.2 365.0L538.2 365.0L539.2 365.0L539.2 365.2L320.2 365.2Z" fill="url(#gBlue)" fill-opacity="0.8" stroke="#6f74e2" stroke-width="1"/>
</g>
<g clip-path="url(#cR4)">
<path d="M320.6 453.1L322.3 451.5L325.6 453.6L327.5 453.3L330.0 451.6L333.3 453.6L336.4 450.2L338.6 452.0L341.4 448.5L343.9 450.6L346.2 447.9L348.3 451.1L351.4 448.3L353.6 448.1L356.6 449.9L359.0 447.8L361.8 449.7L364.0 448.3L367.2 449.6L369.5 448.9L372.2 445.2L374.3 444.3L377.4 443.0L380.1 442.7L383.2 443.3L385.3 440.5L387.4 439.4L390.2 439.1L392.8 439.0L395.8 436.2L398.7 434.2L401.4 432.0L403.9 429.2L406.5 425.8L409.0 423.5L411.7 421.5L413.2 422.1L416.4 419.5L419.1 414.1L421.8 412.6L424.3 411.3L426.9 409.7L429.9 405.6L431.5 406.5L434.6 406.5L437.8 404.1L439.2 407.7L441.9 408.5L445.4 407.4L448.1 405.5L449.6 408.5L452.2 405.5L455.8 405.6L458.2 409.3L460.6 408.1L463.3 404.8L466.1 401.3L468.8 396.8L470.4 394.9L473.1 389.7L476.6 382.8L479.4 375.3L481.8 370.0L483.9 364.9L486.4 366.8L489.0 368.7L491.2 375.1L494.7 387.5L496.7 395.4L499.7 406.1L502.2 413.0L504.6 421.8L507.6 431.2L509.9 438.6L512.3 441.9L515.7 445.4L517.4 449.0L520.0 447.2L522.7 447.5L525.6 449.9L528.5 451.6L530.6 451.6L533.1 450.2L536.2 450.7L538.3 453.3" fill="none" stroke="#222222" stroke-width="1.2"/>
<path d="M320.2 453.8L321.2 453.8L322.2 453.7L323.2 453.7L324.2 453.7L325.2 453.7L326.2 453.7L327.2 453.6L328.2 453.6L329.2 453.6L330.2 453.6L331.2 453.5L332.2 453.5L333.2 453.5L334.2 453.5L335.2 453.5L336.2 453.4L337.2 453.4L338.2 453.4L339.2 453.4L340.2 453.3L341.2 453.3L342.2 453.3L343.2 453.2L344.2 453.2L345.2 453.2L346.2 453.1L347.2 453.1L348.2 453.1L349.2 453.0L350.2 453.0L351.2 452.9L352.2 452.9L353.2 452.8L354.2 452.8L355.2 452.7L356.2 452.7L357.2 452.6L358.2 452.5L359.2 452.4L360.2 452.3L361.2 452.2L362.2 452.1L363.2 452.0L364.2 451.9L365.2 451.8L366.2 451.7L367.2 451.5L368.2 451.4L369.2 451.1L370.2 450.9L371.2 450.6L372.2 450.3L373.2 449.9L374.2 449.5L375.2 449.1L376.2 448.7L377.2 448.2L378.2 447.7L379.2 447.2L380.2 446.7L381.2 446.2L382.2 445.7L383.2 445.2L384.2 444.7L385.2 444.2L386.2 443.7L387.2 443.2L388.2 442.6L389.2 442.1L390.2 441.5L391.2 440.9L392.2 440.2L393.2 439.5L394.2 438.8L395.2 438.0L396.2 437.2L397.2 436.2L398.2 435.2L399.2 434.1L400.2 433.0L401.2 432.0L402.2 430.9L403.2 429.9L404.2 429.0L405.2 428.1L406.2 427.3L407.2 426.4L408.2 425.6L409.2 424.8L410.2 424.0L411.2 423.2L412.2 422.4L413.2 421.7L414.2 421.1L415.2 420.4L416.2 419.7L417.2 419.1L418.2 418.5L419.2 417.9L420.2 417.3L421.2 416.8L422.2 416.3L423.2 415.8L424.2 415.3L425.2 414.8L426.2 414.3L427.2 413.9L428.2 413.5L429.2 413.1L430.2 412.7L431.2 412.4L432.2 412.2L433.2 412.1L434.2 411.9L435.2 411.7L436.2 411.6L437.2 411.5L438.2 411.4L439.2 411.3L440.2 411.2L441.2 411.2L442.2 411.2L443.2 411.3L444.2 411.4L445.2 411.5L446.2 411.7L447.2 411.8L448.2 412.0L449.2 412.1L450.2 412.2L451.2 412.2L452.2 412.2L453.2 412.1L454.2 412.0L455.2 411.8L456.2 411.6L457.2 411.4L458.2 411.1L459.2 410.8L460.2 410.5L461.2 410.1L462.2 409.4L463.2 408.5L464.2 407.2L465.2 405.8L466.2 404.3L467.2 402.7L468.2 401.1L469.2 399.5L470.2 397.8L471.2 395.9L472.2 394.0L473.2 391.9L474.2 389.8L475.2 387.5L476.2 385.2L477.2 382.5L478.2 379.6L479.2 376.5L480.2 373.7L481.2 371.3L482.2 369.6L483.2 367.9L484.2 366.5L485.2 365.8L486.2 366.1L487.2 367.0L488.2 368.6L489.2 370.5L490.2 372.6L491.2 374.8L492.2 377.6L493.2 381.2L494.2 385.2L495.2 389.3L496.2 393.3L497.2 396.8L498.2 400.2L499.2 403.5L500.2 406.8L501.2 410.0L502.2 413.3L503.2 416.8L504.2 420.5L505.2 424.2L506.2 427.8L507.2 430.9L508.2 433.5L509.2 435.8L510.2 438.0L511.2 440.1L512.2 442.0L513.2 443.7L514.2 445.0L515.2 445.9L516.2 446.5L517.2 446.9L518.2 447.2L519.2 447.5L520.2 447.8L521.2 448.1L522.2 448.4L523.2 448.7L524.2 449.1L525.2 449.4L526.2 449.7L527.2 450.0L528.2 450.3L529.2 450.6L530.2 451.0L531.2 451.3L532.2 451.6L533.2 451.9L534.2 452.2L535.2 452.5L536.2 452.8L537.2 453.2L538.2 453.5L539.2 453.5L539.2 454.1L320.2 454.1Z" fill="url(#gTh)" fill-opacity="0.78" stroke="#b4b4b4" stroke-opacity="0.8" stroke-width="1.5"/>
<path d="M320.2 454.0L321.2 454.0L322.2 454.0L323.2 454.0L324.2 454.0L325.2 454.0L326.2 454.0L327.2 454.0L328.2 454.0L329.2 454.0L330.2 454.0L331.2 454.0L332.2 454.0L333.2 454.0L334.2 454.0L335.2 454.0L336.2 454.0L337.2 454.0L338.2 454.0L339.2 454.0L340.2 454.0L341.2 454.0L342.2 454.0L343.2 454.0L344.2 454.0L345.2 454.0L346.2 454.0L347.2 454.0L348.2 454.0L349.2 454.0L350.2 454.0L351.2 454.0L352.2 454.0L353.2 454.0L354.2 454.0L355.2 454.0L356.2 453.9L357.2 453.9L358.2 453.9L359.2 453.9L360.2 453.9L361.2 453.9L362.2 453.9L363.2 453.9L364.2 453.9L365.2 453.8L366.2 453.8L367.2 453.8L368.2 453.8L369.2 453.7L370.2 453.7L371.2 453.6L372.2 453.6L373.2 453.5L374.2 453.4L375.2 453.4L376.2 453.2L377.2 453.1L378.2 453.0L379.2 452.8L380.2 452.7L381.2 452.5L382.2 452.3L383.2 452.0L384.2 451.8L385.2 451.5L386.2 451.1L387.2 450.8L388.2 450.4L389.2 449.9L390.2 449.5L391.2 449.0L392.2 448.4L393.2 447.8L394.2 447.2L395.2 446.6L396.2 445.9L397.2 445.2L398.2 444.4L399.2 443.7L400.2 442.9L401.2 442.1L402.2 441.3L403.2 440.5L404.2 439.6L405.2 438.8L406.2 438.0L407.2 437.3L408.2 436.5L409.2 435.8L410.2 435.1L411.2 434.5L412.2 434.0L413.2 433.5L414.2 433.0L415.2 432.7L416.2 432.4L417.2 432.2L418.2 432.1L419.2 432.1L420.2 432.1L421.2 432.3L422.2 432.5L423.2 432.8L424.2 433.2L425.2 433.6L426.2 434.2L427.2 434.8L428.2 435.4L429.2 436.1L430.2 436.8L431.2 437.6L432.2 438.4L433.2 439.2L434.2 440.0L435.2 440.8L436.2 441.6L437.2 442.4L438.2 443.2L439.2 444.0L440.2 444.7L441.2 445.5L442.2 446.2L443.2 446.8L444.2 447.5L445.2 448.1L446.2 448.6L447.2 449.2L448.2 449.7L449.2 450.1L450.2 450.5L451.2 450.9L452.2 451.3L453.2 451.6L454.2 451.9L455.2 452.1L456.2 452.4L457.2 452.6L458.2 452.7L459.2 452.9L460.2 453.1L461.2 453.2L462.2 453.3L463.2 453.4L464.2 453.5L465.2 453.5L466.2 453.6L467.2 453.7L468.2 453.7L469.2 453.7L470.2 453.8L471.2 453.8L472.2 453.8L473.2 453.9L474.2 453.9L475.2 453.9L476.2 453.9L477.2 453.9L478.2 453.9L479.2 453.9L480.2 453.9L481.2 453.9L482.2 453.9L483.2 454.0L484.2 454.0L485.2 454.0L486.2 454.0L487.2 454.0L488.2 454.0L489.2 454.0L490.2 454.0L491.2 454.0L492.2 454.0L493.2 454.0L494.2 454.0L495.2 454.0L496.2 454.0L497.2 454.0L498.2 454.0L499.2 454.0L500.2 454.0L501.2 454.0L502.2 454.0L503.2 454.0L504.2 454.0L505.2 454.0L506.2 454.0L507.2 454.0L508.2 454.0L509.2 454.0L510.2 454.0L511.2 454.0L512.2 454.0L513.2 454.0L514.2 454.0L515.2 454.0L516.2 454.0L517.2 454.0L518.2 454.0L519.2 454.0L520.2 454.0L521.2 454.0L522.2 454.0L523.2 454.0L524.2 454.0L525.2 454.0L526.2 454.0L527.2 454.0L528.2 454.0L529.2 454.0L530.2 454.0L531.2 454.0L532.2 454.0L533.2 454.0L534.2 454.0L535.2 454.0L536.2 454.0L537.2 454.0L538.2 454.0L539.2 454.0L539.2 454.1L320.2 454.1Z" fill="url(#gSurf)" fill-opacity="0.9" stroke="#f0a8b6" stroke-width="0.8"/>
<path d="M320.2 454.0L321.2 454.0L322.2 454.0L323.2 454.0L324.2 454.0L325.2 454.0L326.2 454.0L327.2 454.0L328.2 454.0L329.2 454.0L330.2 454.0L331.2 454.0L332.2 454.0L333.2 454.0L334.2 454.0L335.2 454.0L336.2 454.0L337.2 454.0L338.2 454.0L339.2 454.0L340.2 454.0L341.2 454.0L342.2 454.0L343.2 454.0L344.2 454.0L345.2 454.0L346.2 454.0L347.2 454.0L348.2 454.0L349.2 454.0L350.2 454.0L351.2 454.0L352.2 454.0L353.2 454.0L354.2 454.0L355.2 454.0L356.2 454.0L357.2 454.0L358.2 454.0L359.2 454.0L360.2 454.0L361.2 454.0L362.2 454.0L363.2 454.0L364.2 454.0L365.2 454.0L366.2 454.0L367.2 454.0L368.2 454.0L369.2 453.9L370.2 453.9L371.2 453.9L372.2 453.9L373.2 453.9L374.2 453.9L375.2 453.9L376.2 453.9L377.2 453.9L378.2 453.9L379.2 453.9L380.2 453.9L381.2 453.9L382.2 453.9L383.2 453.9L384.2 453.8L385.2 453.8L386.2 453.8L387.2 453.8L388.2 453.7L389.2 453.7L390.2 453.7L391.2 453.6L392.2 453.5L393.2 453.5L394.2 453.4L395.2 453.3L396.2 453.2L397.2 453.1L398.2 453.0L399.2 452.8L400.2 452.7L401.2 452.5L402.2 452.3L403.2 452.0L404.2 451.7L405.2 451.5L406.2 451.1L407.2 450.8L408.2 450.4L409.2 449.9L410.2 449.5L411.2 448.9L412.2 448.4L413.2 447.8L414.2 447.1L415.2 446.4L416.2 445.7L417.2 444.9L418.2 444.1L419.2 443.3L420.2 442.4L421.2 441.5L422.2 440.5L423.2 439.6L424.2 438.6L425.2 437.6L426.2 436.6L427.2 435.5L428.2 434.5L429.2 433.5L430.2 432.6L431.2 431.6L432.2 430.7L433.2 429.9L434.2 429.1L435.2 428.4L436.2 427.7L437.2 427.1L438.2 426.6L439.2 426.2L440.2 425.8L441.2 425.6L442.2 425.5L443.2 425.5L444.2 425.5L445.2 425.7L446.2 426.0L447.2 426.3L448.2 426.8L449.2 427.3L450.2 427.9L451.2 428.6L452.2 429.4L453.2 430.2L454.2 431.1L455.2 432.0L456.2 433.0L457.2 433.9L458.2 434.9L459.2 435.9L460.2 437.0L461.2 438.0L462.2 439.0L463.2 439.9L464.2 440.9L465.2 441.8L466.2 442.7L467.2 443.6L468.2 444.5L469.2 445.3L470.2 446.0L471.2 446.7L472.2 447.4L473.2 448.0L474.2 448.6L475.2 449.1L476.2 449.6L477.2 450.1L478.2 450.5L479.2 450.9L480.2 451.3L481.2 451.6L482.2 451.9L483.2 452.1L484.2 452.3L485.2 452.5L486.2 452.7L487.2 452.9L488.2 453.0L489.2 453.2L490.2 453.3L491.2 453.4L492.2 453.4L493.2 453.5L494.2 453.6L495.2 453.6L496.2 453.7L497.2 453.7L498.2 453.7L499.2 453.8L500.2 453.8L501.2 453.8L502.2 453.8L503.2 453.9L504.2 453.9L505.2 453.9L506.2 453.9L507.2 453.9L508.2 453.9L509.2 453.9L510.2 453.9L511.2 453.9L512.2 453.9L513.2 453.9L514.2 453.9L515.2 453.9L516.2 453.9L517.2 454.0L518.2 454.0L519.2 454.0L520.2 454.0L521.2 454.0L522.2 454.0L523.2 454.0L524.2 454.0L525.2 454.0L526.2 454.0L527.2 454.0L528.2 454.0L529.2 454.0L530.2 454.0L531.2 454.0L532.2 454.0L533.2 454.0L534.2 454.0L535.2 454.0L536.2 454.0L537.2 454.0L538.2 454.0L539.2 454.0L539.2 454.1L320.2 454.1Z" fill="url(#gOr)" fill-opacity="0.82" stroke="#f4a878" stroke-width="0.8"/>
<path d="M320.2 454.0L321.2 454.0L322.2 454.0L323.2 454.0L324.2 454.0L325.2 454.0L326.2 454.0L327.2 454.0L328.2 454.0L329.2 454.0L330.2 454.0L331.2 454.0L332.2 454.0L333.2 454.0L334.2 454.0L335.2 454.0L336.2 454.0L337.2 454.0L338.2 454.0L339.2 454.0L340.2 454.0L341.2 454.0L342.2 454.0L343.2 454.0L344.2 454.0L345.2 454.0L346.2 454.0L347.2 454.0L348.2 454.0L349.2 454.0L350.2 454.0L351.2 454.0L352.2 454.0L353.2 454.0L354.2 454.0L355.2 454.0L356.2 454.0L357.2 454.0L358.2 454.0L359.2 454.0L360.2 454.0L361.2 454.0L362.2 454.0L363.2 454.0L364.2 454.0L365.2 454.0L366.2 454.0L367.2 454.0L368.2 454.0L369.2 454.0L370.2 454.0L371.2 454.0L372.2 454.0L373.2 454.0L374.2 454.0L375.2 454.0L376.2 454.0L377.2 454.0L378.2 454.0L379.2 454.0L380.2 454.0L381.2 454.0L382.2 454.0L383.2 454.0L384.2 454.0L385.2 454.0L386.2 454.0L387.2 454.0L388.2 454.0L389.2 454.0L390.2 453.9L391.2 453.9L392.2 453.9L393.2 453.9L394.2 453.9L395.2 453.9L396.2 453.9L397.2 453.9L398.2 453.9L399.2 453.9L400.2 453.9L401.2 453.9L402.2 453.9L403.2 453.9L404.2 453.9L405.2 453.9L406.2 453.9L407.2 453.9L408.2 453.9L409.2 453.9L410.2 453.9L411.2 453.9L412.2 453.9L413.2 453.9L414.2 453.9L415.2 453.9L416.2 453.9L417.2 453.9L418.2 453.9L419.2 453.8L420.2 453.8L421.2 453.8L422.2 453.8L423.2 453.8L424.2 453.8L425.2 453.8L426.2 453.8L427.2 453.8L428.2 453.8L429.2 453.8L430.2 453.8L431.2 453.7L432.2 453.7L433.2 453.7L434.2 453.7L435.2 453.7L436.2 453.6L437.2 453.6L438.2 453.6L439.2 453.5L440.2 453.5L441.2 453.4L442.2 453.3L443.2 453.2L444.2 453.1L445.2 453.0L446.2 452.8L447.2 452.6L448.2 452.3L449.2 452.0L450.2 451.7L451.2 451.2L452.2 450.7L453.2 450.1L454.2 449.4L455.2 448.5L456.2 447.6L457.2 446.5L458.2 445.2L459.2 443.8L460.2 442.2L461.2 440.4L462.2 438.4L463.2 436.2L464.2 433.8L465.2 431.2L466.2 428.4L467.2 425.4L468.2 422.2L469.2 418.8L470.2 415.4L471.2 411.8L472.2 408.1L473.2 404.4L474.2 400.7L475.2 397.0L476.2 393.5L477.2 390.0L478.2 386.8L479.2 383.8L480.2 381.2L481.2 378.8L482.2 376.9L483.2 375.3L484.2 374.2L485.2 373.6L486.2 373.5L487.2 373.8L488.2 374.6L489.2 375.9L490.2 377.6L491.2 379.7L492.2 382.2L493.2 385.0L494.2 388.1L495.2 391.4L496.2 394.9L497.2 398.5L498.2 402.2L499.2 405.9L500.2 409.6L501.2 413.2L502.2 416.8L503.2 420.2L504.2 423.5L505.2 426.6L506.2 429.5L507.2 432.3L508.2 434.8L509.2 437.1L510.2 439.2L511.2 441.1L512.2 442.9L513.2 444.4L514.2 445.7L515.2 446.9L516.2 448.0L517.2 448.9L518.2 449.7L519.2 450.3L520.2 450.9L521.2 451.4L522.2 451.8L523.2 452.2L524.2 452.4L525.2 452.7L526.2 452.9L527.2 453.0L528.2 453.2L529.2 453.3L530.2 453.4L531.2 453.4L532.2 453.5L533.2 453.6L534.2 453.6L535.2 453.6L536.2 453.7L537.2 453.7L538.2 453.7L539.2 453.7L539.2 454.1L320.2 454.1Z" fill="url(#gBlue)" fill-opacity="0.8" stroke="#6f74e2" stroke-width="1"/>
</g>
<line x1="427.0" y1="10" x2="427.0" y2="454" stroke="#e8409a" stroke-width="1.8" stroke-dasharray="5 3.5"/>
<line x1="447.2" y1="10" x2="447.2" y2="454" stroke="#e8409a" stroke-width="1.8" stroke-dasharray="5 3.5"/>
<line x1="460.9" y1="10" x2="460.9" y2="454" stroke="#3f8ad8" stroke-width="1.6" stroke-dasharray="5 4"/>
<line x1="485.6" y1="10" x2="485.6" y2="454" stroke="#3f8ad8" stroke-width="1.6" stroke-dasharray="5 4"/>
<rect x="320.2" y="9.8" width="218.1" height="88.8" fill="none" stroke="#222" stroke-width="1.4"/>
<path d="M538.4 96.1V102.1M520.2 98.6V101.6M502.0 96.1V102.1M483.8 98.6V101.6M465.6 96.1V102.1M447.5 98.6V101.6M429.3 96.1V102.1M411.1 98.6V101.6M392.9 96.1V102.1M374.7 98.6V101.6M356.6 96.1V102.1M338.4 98.6V101.6M320.2 96.1V102.1" stroke="#222" stroke-width="1"/>
<rect x="320.2" y="98.6" width="218.1" height="88.9" fill="none" stroke="#222" stroke-width="1.4"/>
<path d="M538.4 185.0V191.0M520.2 187.5V190.5M502.0 185.0V191.0M483.8 187.5V190.5M465.6 185.0V191.0M447.5 187.5V190.5M429.3 185.0V191.0M411.1 187.5V190.5M392.9 185.0V191.0M374.7 187.5V190.5M356.6 185.0V191.0M338.4 187.5V190.5M320.2 185.0V191.0" stroke="#222" stroke-width="1"/>
<rect x="320.2" y="187.5" width="218.1" height="88.8" fill="none" stroke="#222" stroke-width="1.4"/>
<path d="M538.4 273.8V279.8M520.2 276.3V279.3M502.0 273.8V279.8M483.8 276.3V279.3M465.6 273.8V279.8M447.5 276.3V279.3M429.3 273.8V279.8M411.1 276.3V279.3M392.9 273.8V279.8M374.7 276.3V279.3M356.6 273.8V279.8M338.4 276.3V279.3M320.2 273.8V279.8" stroke="#222" stroke-width="1"/>
<rect x="320.2" y="276.3" width="218.1" height="88.9" fill="none" stroke="#222" stroke-width="1.4"/>
<path d="M538.4 362.7V368.7M520.2 365.2V368.2M502.0 362.7V368.7M483.8 365.2V368.2M465.6 362.7V368.7M447.5 365.2V368.2M429.3 362.7V368.7M411.1 365.2V368.2M392.9 362.7V368.7M374.7 365.2V368.2M356.6 362.7V368.7M338.4 365.2V368.2M320.2 362.7V368.7" stroke="#222" stroke-width="1"/>
<rect x="320.2" y="365.2" width="218.1" height="88.9" fill="none" stroke="#222" stroke-width="1.4"/>
<path d="M538.4 451.6V457.6M520.2 454.1V457.1M502.0 451.6V457.6M483.8 454.1V457.1M465.6 451.6V457.6M447.5 454.1V457.1M429.3 451.6V457.6M411.1 454.1V457.1M392.9 451.6V457.6M374.7 454.1V457.1M356.6 451.6V457.6M338.4 454.1V457.1M320.2 451.6V457.6" stroke="#222" stroke-width="1"/>
<path d="M388 98.6H438" stroke="#e88a5a" stroke-width="1.2"/>
<path d="M438 98.6H537.6" stroke="#5a4ab8" stroke-width="1.3"/>
<path d="M388 187.5H438" stroke="#e88a5a" stroke-width="1.2"/>
<path d="M438 187.5H537.6" stroke="#5a4ab8" stroke-width="1.3"/>
<path d="M388 276.3H438" stroke="#e88a5a" stroke-width="1.2"/>
<path d="M438 276.3H537.6" stroke="#5a4ab8" stroke-width="1.3"/>
<path d="M388 365.2H438" stroke="#e88a5a" stroke-width="1.2"/>
<path d="M438 365.2H537.6" stroke="#5a4ab8" stroke-width="1.3"/>
<path d="M388 454.1H438" stroke="#e88a5a" stroke-width="1.2"/>
<path d="M438 454.1H537.6" stroke="#5a4ab8" stroke-width="1.3"/>
<text x="1.0" y="37.2" font-size="35.5" fill="#111" stroke="#111" stroke-width="0.70">(</text>
<text x="12.0" y="36.8" font-size="30.5" fill="#111" stroke="#111" stroke-width="0.90" textLength="23.5" lengthAdjust="spacingAndGlyphs" >A</text>
<text x="36.0" y="37.2" font-size="35.5" fill="#111" stroke="#111" stroke-width="0.70">)</text>
<text x="268.2" y="37.2" font-size="35.5" fill="#111" stroke="#111" stroke-width="0.70">(</text>
<text x="280.5" y="37.0" font-size="30.5" fill="#111" stroke="#111" stroke-width="0.90" textLength="21.5" lengthAdjust="spacingAndGlyphs" >B</text>
<text x="302.3" y="37.2" font-size="35.5" fill="#111" stroke="#111" stroke-width="0.70">)</text>
<text x="53.2" y="31.6" font-size="24.0" fill="#111" stroke="#111" stroke-width="0.70" textLength="52.0" lengthAdjust="spacingAndGlyphs" >Ti 2p</text>
<text x="323.0" y="36.2" font-size="23.5" fill="#111" stroke="#111" stroke-width="0.70" textLength="51.5" lengthAdjust="spacingAndGlyphs" >O 1s</text>
<text x="127.3" y="28.4" font-size="13.5" fill="#d8900e" stroke="#d8900e" stroke-width="0.40" textLength="39.0" lengthAdjust="spacingAndGlyphs" >0.9eV</text>
<text x="350.9" y="51.8" font-size="13.8" fill="#f020e8" stroke="#f020e8" stroke-width="0.40" textLength="38.0" lengthAdjust="spacingAndGlyphs" >1.2eV</text>
<text x="487.4" y="44.2" font-size="13.8" fill="#1aa8e8" stroke="#1aa8e8" stroke-width="0.40" textLength="38.0" lengthAdjust="spacingAndGlyphs" >1.4eV</text>
<text x="224.0" y="23.5" font-size="12.0" fill="#ee2fa0" stroke="#ee2fa0" stroke-width="0.30" textLength="42.5" lengthAdjust="spacingAndGlyphs" >STO-A2</text>
<text x="224.0" y="111.5" font-size="12.0" fill="#22b822" stroke="#22b822" stroke-width="0.30" textLength="42.5" lengthAdjust="spacingAndGlyphs" >STO-A1</text>
<text x="224.0" y="199.5" font-size="12.0" fill="#1a9ee6" stroke="#1a9ee6" stroke-width="0.30" textLength="42.5" lengthAdjust="spacingAndGlyphs" >STO-R5</text>
<text x="224.0" y="287.5" font-size="12.0" fill="#f04444" stroke="#f04444" stroke-width="0.30" textLength="42.5" lengthAdjust="spacingAndGlyphs" >STO-R3</text>
<text x="240.0" y="374.5" font-size="12.0" fill="#4a4a4a" stroke="#4a4a4a" stroke-width="0.30" textLength="21.5" lengthAdjust="spacingAndGlyphs" >STO</text>
<text x="495.3" y="23.7" font-size="11.5" fill="#ee2fa0" stroke="#ee2fa0" stroke-width="0.30" textLength="40.3" lengthAdjust="spacingAndGlyphs" >STO-A2</text>
<text x="495.3" y="112.5" font-size="11.5" fill="#22b822" stroke="#22b822" stroke-width="0.30" textLength="40.3" lengthAdjust="spacingAndGlyphs" >STO-A1</text>
<text x="495.3" y="201.4" font-size="11.5" fill="#1a9ee6" stroke="#1a9ee6" stroke-width="0.30" textLength="40.3" lengthAdjust="spacingAndGlyphs" >STO-R5</text>
<text x="495.3" y="290.2" font-size="11.5" fill="#f04444" stroke="#f04444" stroke-width="0.30" textLength="40.3" lengthAdjust="spacingAndGlyphs" >STO-R3</text>
<text x="510.5" y="379.5" font-size="12.0" fill="#4a4a4a" stroke="#4a4a4a" stroke-width="0.30" textLength="22.5" lengthAdjust="spacingAndGlyphs" >STO</text>
<text x="253.2" y="463.6" font-size="10.5" fill="#111" stroke="#111" stroke-width="0.30" textLength="15.5" lengthAdjust="spacingAndGlyphs" >452</text>
<text x="227.8" y="463.6" font-size="10.5" fill="#111" stroke="#111" stroke-width="0.30" textLength="15.5" lengthAdjust="spacingAndGlyphs" >454</text>
<text x="202.4" y="463.6" font-size="10.5" fill="#111" stroke="#111" stroke-width="0.30" textLength="15.5" lengthAdjust="spacingAndGlyphs" >456</text>
<text x="177.1" y="463.6" font-size="10.5" fill="#111" stroke="#111" stroke-width="0.30" textLength="15.5" lengthAdjust="spacingAndGlyphs" >458</text>
<text x="151.6" y="463.6" font-size="10.5" fill="#111" stroke="#111" stroke-width="0.30" textLength="15.5" lengthAdjust="spacingAndGlyphs" >460</text>
<text x="126.2" y="463.6" font-size="10.5" fill="#111" stroke="#111" stroke-width="0.30" textLength="15.5" lengthAdjust="spacingAndGlyphs" >462</text>
<text x="100.8" y="463.6" font-size="10.5" fill="#111" stroke="#111" stroke-width="0.30" textLength="15.5" lengthAdjust="spacingAndGlyphs" >464</text>
<text x="75.4" y="463.6" font-size="10.5" fill="#111" stroke="#111" stroke-width="0.30" textLength="15.5" lengthAdjust="spacingAndGlyphs" >466</text>
<text x="50.0" y="463.6" font-size="10.5" fill="#111" stroke="#111" stroke-width="0.30" textLength="15.5" lengthAdjust="spacingAndGlyphs" >468</text>
<text x="530.4" y="466.9" font-size="10.5" fill="#111" stroke="#111" stroke-width="0.30" textLength="16.0" lengthAdjust="spacingAndGlyphs" >526</text>
<text x="494.0" y="466.9" font-size="10.5" fill="#111" stroke="#111" stroke-width="0.30" textLength="16.0" lengthAdjust="spacingAndGlyphs" >528</text>
<text x="457.6" y="466.9" font-size="10.5" fill="#111" stroke="#111" stroke-width="0.30" textLength="16.0" lengthAdjust="spacingAndGlyphs" >530</text>
<text x="421.3" y="466.9" font-size="10.5" fill="#111" stroke="#111" stroke-width="0.30" textLength="16.0" lengthAdjust="spacingAndGlyphs" >532</text>
<text x="384.9" y="466.9" font-size="10.5" fill="#111" stroke="#111" stroke-width="0.30" textLength="16.0" lengthAdjust="spacingAndGlyphs" >534</text>
<text x="348.6" y="466.9" font-size="10.5" fill="#111" stroke="#111" stroke-width="0.30" textLength="16.0" lengthAdjust="spacingAndGlyphs" >536</text>
<text x="312.2" y="466.9" font-size="10.5" fill="#111" stroke="#111" stroke-width="0.30" textLength="16.0" lengthAdjust="spacingAndGlyphs" >538</text>
<text x="84.5" y="485.6" font-size="19.5" fill="#111" stroke="#111" stroke-width="0.50" textLength="167.5" lengthAdjust="spacingAndGlyphs" >Binding Energy(eV)</text>
<text x="346.0" y="485.6" font-size="19.5" fill="#111" stroke="#111" stroke-width="0.50" textLength="167.0" lengthAdjust="spacingAndGlyphs" >Binding Energy(eV)</text>
<text transform="translate(45.0,307.3) rotate(-90)" font-size="20" fill="#111" stroke="#111" stroke-width="0.5" textLength="160.3" lengthAdjust="spacingAndGlyphs">Intensity(Arb.un.)</text>
<text transform="translate(315.3,312.7) rotate(-90)" font-size="20" fill="#111" stroke="#111" stroke-width="0.5" textLength="156.4" lengthAdjust="spacingAndGlyphs">Intensity(Arb.un.)</text>
<path d="M146.3 37.3 C150 40 158 41.2 171 41.3" fill="none" stroke="#d8900e" stroke-width="2.5" stroke-linecap="round"/>
<path d="M177.8 41.3 L169.6 37.6 L169.6 45 Z" fill="#d8900e"/>
<rect x="177.5" y="38.6" width="11.8" height="5" fill="#f2e400"/>
<path d="M370 61 C378 81 420 83 432 58" fill="none" stroke="#f020e8" stroke-width="2.7"/>
<path d="M437 51.5 L428.5 55.5 L435.5 60.5 Z" fill="#f020e8"/>
<rect x="426.2" y="47.3" width="20.6" height="4.5" fill="#f020e8"/>
<path d="M507.3 52.3 C508 66 501 71 492 71 C484 71 478 65 475 57" fill="none" stroke="#1aa8e8" stroke-width="2.7"/>
<path d="M471.8 50.5 L471.5 60 L479.5 55 Z" fill="#1aa8e8"/>
<rect x="460.2" y="45.9" width="25.8" height="4.9" fill="#1aa8e8"/>
<rect x="485" y="42.6" width="1.8" height="9.8" fill="#1aa8e8"/>
<line x1="51.5" y1="371.5" x2="75.7" y2="371.5" stroke="#222" stroke-width="1.2"/>
<text x="77.8" y="375.0" font-size="9.0" fill="#111" stroke="#111" stroke-width="0.25" textLength="54.5" lengthAdjust="spacingAndGlyphs" >Experimental</text>
<rect x="52.0" y="379.4" width="23.7" height="12.0" fill="url(#lgTh)" stroke="#b8b8b8" stroke-width="1"/>
<text x="78.0" y="388.4" font-size="9.0" fill="#2633d6" stroke="#2633d6" stroke-width="0.25" textLength="43.6" lengthAdjust="spacingAndGlyphs" >Theoritical</text>
<rect x="52.0" y="394.8" width="23.7" height="12.2" fill="url(#lgPink)" stroke="#dcc0c2" stroke-width="1"/>
<text x="78.3" y="404.0" font-size="8.8" fill="#ee2222" stroke="#ee2222" stroke-width="0.25" textLength="19.5" lengthAdjust="spacingAndGlyphs" >Ti 2p</text>
<text x="98.3" y="407.3" font-size="7.2" fill="#ee2222" stroke="#ee2222" stroke-width="0.20" textLength="11.0" lengthAdjust="spacingAndGlyphs" >1/2</text>
<rect x="52.0" y="410.5" width="23.7" height="12.5" fill="url(#lgPur)" stroke="#c8bcd8" stroke-width="1"/>
<text x="78.3" y="420.4" font-size="8.8" fill="#6a22b0" stroke="#6a22b0" stroke-width="0.25" textLength="19.5" lengthAdjust="spacingAndGlyphs" >Ti 2p</text>
<text x="98.3" y="423.5" font-size="7.2" fill="#6a22b0" stroke="#6a22b0" stroke-width="0.20" textLength="11.0" lengthAdjust="spacingAndGlyphs" >3/2</text>
<line x1="320.5" y1="374" x2="343" y2="374" stroke="#222" stroke-width="1.2"/>
<text x="345.8" y="377.9" font-size="8.8" fill="#111" stroke="#111" stroke-width="0.25" textLength="50.2" lengthAdjust="spacingAndGlyphs" >Experimental</text>
<rect x="321.0" y="381.5" width="21.6" height="11.2" fill="url(#lgTh)" stroke="#b4b4b4" stroke-width="1"/>
<text x="346.1" y="390.0" font-size="8.8" fill="#30b4ee" stroke="#30b4ee" stroke-width="0.25" textLength="40.2" lengthAdjust="spacingAndGlyphs" >Theoritical</text>
<rect x="321.0" y="394.2" width="21.6" height="10.8" fill="url(#lgBlue)" stroke="#9a9ad0" stroke-width="1"/>
<text x="346.1" y="402.1" font-size="8.8" fill="#2222cc" stroke="#2222cc" stroke-width="0.25" textLength="55.7" lengthAdjust="spacingAndGlyphs" >Lattice Oxygen</text>
<rect x="321.0" y="406.6" width="21.6" height="10.8" fill="url(#lgOr)" stroke="#d0b090" stroke-width="1"/>
<text x="346.1" y="414.4" font-size="8.8" fill="#f6a868" stroke="#f6a868" stroke-width="0.25" textLength="67.4" lengthAdjust="spacingAndGlyphs" >Oxygen Vacancies</text>
<rect x="321.0" y="419.1" width="21.6" height="10.8" fill="url(#lgSurf)" stroke="#c8aaaa" stroke-width="1"/>
<text x="346.1" y="426.8" font-size="8.8" fill="#ee1c1c" stroke="#ee1c1c" stroke-width="0.25" textLength="57.9" lengthAdjust="spacingAndGlyphs" >Surface Oxygen</text>
</svg></body></html>
